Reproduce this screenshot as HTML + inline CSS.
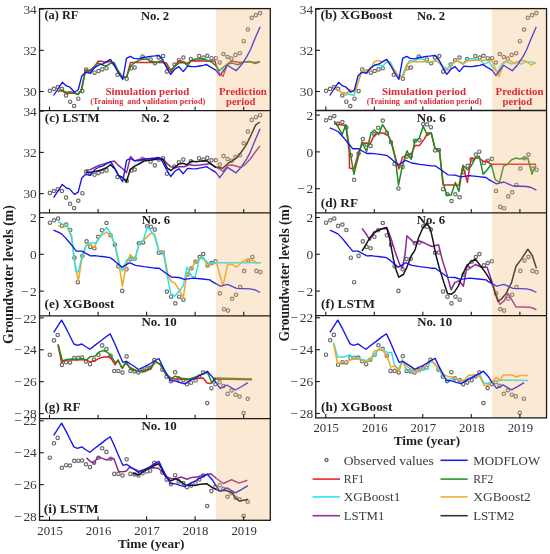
<!DOCTYPE html>
<html><head><meta charset="utf-8"><style>html,body{margin:0;padding:0;background:#fff;width:550px;height:554px;overflow:hidden}</style></head>
<body>
<svg width="550" height="554" viewBox="0 0 550 554" style="display:block">
<rect width="550" height="554" fill="#ffffff"/>
<text x="141.5" y="429.5" font-family="'Liberation Serif','Times New Roman',serif" font-size="12" font-weight="bold" fill="#1e1e1e" text-anchor="start" textLength="35.2" lengthAdjust="spacingAndGlyphs">No. 10</text>
<text x="43.8" y="513.2" font-family="'Liberation Serif','Times New Roman',serif" font-size="12" font-weight="bold" fill="#1e1e1e" text-anchor="start" textLength="54.9" lengthAdjust="spacingAndGlyphs">(i) LSTM</text>
<text x="417.2" y="326.4" font-family="'Liberation Serif','Times New Roman',serif" font-size="12" font-weight="bold" fill="#1e1e1e" text-anchor="start" textLength="34.9" lengthAdjust="spacingAndGlyphs">No. 10</text>
<text x="321.1" y="411" font-family="'Liberation Serif','Times New Roman',serif" font-size="12" font-weight="bold" fill="#1e1e1e" text-anchor="start" textLength="71.3" lengthAdjust="spacingAndGlyphs">(h) XGBoost</text>
<text x="141.5" y="326.4" font-family="'Liberation Serif','Times New Roman',serif" font-size="12" font-weight="bold" fill="#1e1e1e" text-anchor="start" textLength="35.2" lengthAdjust="spacingAndGlyphs">No. 10</text>
<text x="44.5" y="411" font-family="'Liberation Serif','Times New Roman',serif" font-size="12" font-weight="bold" fill="#1e1e1e" text-anchor="start" textLength="36" lengthAdjust="spacingAndGlyphs">(g) RF</text>
<text x="416.7" y="224" font-family="'Liberation Serif','Times New Roman',serif" font-size="12" font-weight="bold" fill="#1e1e1e" text-anchor="start" textLength="28.4" lengthAdjust="spacingAndGlyphs">No. 6</text>
<text x="321.1" y="307.6" font-family="'Liberation Serif','Times New Roman',serif" font-size="12" font-weight="bold" fill="#1e1e1e" text-anchor="start" textLength="54" lengthAdjust="spacingAndGlyphs">(f) LSTM</text>
<text x="141.8" y="223.8" font-family="'Liberation Serif','Times New Roman',serif" font-size="12" font-weight="bold" fill="#1e1e1e" text-anchor="start" textLength="28.4" lengthAdjust="spacingAndGlyphs">No. 6</text>
<text x="44.5" y="308" font-family="'Liberation Serif','Times New Roman',serif" font-size="12" font-weight="bold" fill="#1e1e1e" text-anchor="start" textLength="70" lengthAdjust="spacingAndGlyphs">(e) XGBoost</text>
<text x="416.8" y="122" font-family="'Liberation Serif','Times New Roman',serif" font-size="12" font-weight="bold" fill="#1e1e1e" text-anchor="start" textLength="29.1" lengthAdjust="spacingAndGlyphs">No. 6</text>
<text x="320.8" y="206.6" font-family="'Liberation Serif','Times New Roman',serif" font-size="12" font-weight="bold" fill="#1e1e1e" text-anchor="start" textLength="37.2" lengthAdjust="spacingAndGlyphs">(d) RF</text>
<text x="141.2" y="121.8" font-family="'Liberation Serif','Times New Roman',serif" font-size="12" font-weight="bold" fill="#1e1e1e" text-anchor="start" textLength="28" lengthAdjust="spacingAndGlyphs">No. 2</text>
<text x="44.8" y="121.8" font-family="'Liberation Serif','Times New Roman',serif" font-size="12" font-weight="bold" fill="#1e1e1e" text-anchor="start" textLength="54.7" lengthAdjust="spacingAndGlyphs">(c) LSTM</text>
<text x="416.9" y="19.6" font-family="'Liberation Serif','Times New Roman',serif" font-size="12" font-weight="bold" fill="#1e1e1e" text-anchor="start" textLength="28.2" lengthAdjust="spacingAndGlyphs">No. 2</text>
<text x="320.5" y="19.4" font-family="'Liberation Serif','Times New Roman',serif" font-size="12" font-weight="bold" fill="#1e1e1e" text-anchor="start" textLength="72" lengthAdjust="spacingAndGlyphs">(b) XGBoost</text>
<text x="140.9" y="19.6" font-family="'Liberation Serif','Times New Roman',serif" font-size="12" font-weight="bold" fill="#1e1e1e" text-anchor="start" textLength="28.2" lengthAdjust="spacingAndGlyphs">No. 2</text>
<text x="44.5" y="19.4" font-family="'Liberation Serif','Times New Roman',serif" font-size="12" font-weight="bold" fill="#1e1e1e" text-anchor="start" textLength="33.8" lengthAdjust="spacingAndGlyphs">(a) RF</text>
<g>
<circle cx="49.9" cy="90.8" r="1.7" fill="none" stroke="#6c6c6c" stroke-width="1.2"/>
<circle cx="53.9" cy="88.9" r="1.7" fill="none" stroke="#6c6c6c" stroke-width="1.2"/>
<circle cx="57.8" cy="87.1" r="1.7" fill="none" stroke="#6c6c6c" stroke-width="1.2"/>
<circle cx="61.9" cy="88.9" r="1.7" fill="none" stroke="#6c6c6c" stroke-width="1.2"/>
<circle cx="66.1" cy="95.5" r="1.7" fill="none" stroke="#6c6c6c" stroke-width="1.2"/>
<circle cx="70.1" cy="101.7" r="1.7" fill="none" stroke="#6c6c6c" stroke-width="1.2"/>
<circle cx="74.1" cy="106" r="1.7" fill="none" stroke="#6c6c6c" stroke-width="1.2"/>
<circle cx="78.3" cy="98.7" r="1.7" fill="none" stroke="#6c6c6c" stroke-width="1.2"/>
<circle cx="82.4" cy="91.1" r="1.7" fill="none" stroke="#6c6c6c" stroke-width="1.2"/>
<circle cx="86.1" cy="69.6" r="1.7" fill="none" stroke="#6c6c6c" stroke-width="1.2"/>
<circle cx="90.2" cy="71.6" r="1.7" fill="none" stroke="#6c6c6c" stroke-width="1.2"/>
<circle cx="94.6" cy="72.7" r="1.7" fill="none" stroke="#6c6c6c" stroke-width="1.2"/>
<circle cx="98.5" cy="71" r="1.7" fill="none" stroke="#6c6c6c" stroke-width="1.2"/>
<circle cx="102.3" cy="69.4" r="1.7" fill="none" stroke="#6c6c6c" stroke-width="1.2"/>
<circle cx="106.5" cy="68.3" r="1.7" fill="none" stroke="#6c6c6c" stroke-width="1.2"/>
<circle cx="117.6" cy="74.8" r="1.7" fill="none" stroke="#6c6c6c" stroke-width="1.2"/>
<circle cx="126.7" cy="78.8" r="1.7" fill="none" stroke="#6c6c6c" stroke-width="1.2"/>
<circle cx="131.4" cy="68.3" r="1.7" fill="none" stroke="#6c6c6c" stroke-width="1.2"/>
<circle cx="134.7" cy="67.5" r="1.7" fill="none" stroke="#6c6c6c" stroke-width="1.2"/>
<circle cx="142.6" cy="56.6" r="1.7" fill="none" stroke="#6c6c6c" stroke-width="1.2"/>
<circle cx="150.6" cy="59.6" r="1.7" fill="none" stroke="#6c6c6c" stroke-width="1.2"/>
<circle cx="154.9" cy="63.3" r="1.7" fill="none" stroke="#6c6c6c" stroke-width="1.2"/>
<circle cx="158.7" cy="57.5" r="1.7" fill="none" stroke="#6c6c6c" stroke-width="1.2"/>
<circle cx="163.1" cy="56.1" r="1.7" fill="none" stroke="#6c6c6c" stroke-width="1.2"/>
<circle cx="166.9" cy="71.6" r="1.7" fill="none" stroke="#6c6c6c" stroke-width="1.2"/>
<circle cx="174.5" cy="64.5" r="1.7" fill="none" stroke="#6c6c6c" stroke-width="1.2"/>
<circle cx="178.9" cy="60.2" r="1.7" fill="none" stroke="#6c6c6c" stroke-width="1.2"/>
<circle cx="183.3" cy="57.5" r="1.7" fill="none" stroke="#6c6c6c" stroke-width="1.2"/>
<circle cx="190.9" cy="59.1" r="1.7" fill="none" stroke="#6c6c6c" stroke-width="1.2"/>
<circle cx="199.1" cy="56.1" r="1.7" fill="none" stroke="#6c6c6c" stroke-width="1.2"/>
<circle cx="203.5" cy="57.5" r="1.7" fill="none" stroke="#6c6c6c" stroke-width="1.2"/>
<circle cx="207.3" cy="55.8" r="1.7" fill="none" stroke="#6c6c6c" stroke-width="1.2"/>
<circle cx="211.5" cy="58.2" r="1.7" fill="none" stroke="#6c6c6c" stroke-width="1.2"/>
<circle cx="215.9" cy="58.2" r="1.7" fill="none" stroke="#6c6c6c" stroke-width="1.2"/>
<circle cx="219.7" cy="62.5" r="1.7" fill="none" stroke="#6c6c6c" stroke-width="1.2"/>
<circle cx="223.5" cy="54" r="1.7" fill="none" stroke="#6c6c6c" stroke-width="1.2"/>
<circle cx="227.6" cy="57" r="1.7" fill="none" stroke="#6c6c6c" stroke-width="1.2"/>
<circle cx="231.5" cy="58.6" r="1.7" fill="none" stroke="#6c6c6c" stroke-width="1.2"/>
<circle cx="235.5" cy="54.9" r="1.7" fill="none" stroke="#6c6c6c" stroke-width="1.2"/>
<circle cx="239.9" cy="53.2" r="1.7" fill="none" stroke="#6c6c6c" stroke-width="1.2"/>
<circle cx="243.7" cy="41.2" r="1.7" fill="none" stroke="#6c6c6c" stroke-width="1.2"/>
<circle cx="247.9" cy="29.5" r="1.7" fill="none" stroke="#6c6c6c" stroke-width="1.2"/>
<circle cx="251.7" cy="17.8" r="1.7" fill="none" stroke="#6c6c6c" stroke-width="1.2"/>
<circle cx="255.9" cy="15.1" r="1.7" fill="none" stroke="#6c6c6c" stroke-width="1.2"/>
<circle cx="260.1" cy="13.1" r="1.7" fill="none" stroke="#6c6c6c" stroke-width="1.2"/>
<polyline points="57.7,91.8 60,90.5 62.7,91.4 66.4,93.6 70,93.2 74.5,93.2 77.3,94.1 80.9,91.4 85.5,70 90,70.9 94.5,66.4 98.3,61.3 101.5,61.3 105.9,62.4 110.3,61.3 114.1,65.1 117.9,71.6 122.8,78.2 126.6,77.1 130.5,62.4 135.4,62.4 140.8,62.4 150,62.4 160.9,62.4 166.4,62.9 169.1,67.8 171.3,72.2 174.5,66.2 178.9,60.7 183.8,61.8 187.1,63.5 191.5,60.7 205,60.9 214.8,60.9 219.2,73.5 223,76.2 227.4,64.2 231.7,60.9 237.2,62 242.6,62.5 248.6,61.5 254.1,62.5 260.1,61.8" fill="none" stroke="#e61e28" stroke-width="1.5" stroke-linejoin="round"/>
<polyline points="59.1,90.9 61.8,90 65.9,92.3 70,91.8 74.1,92.7 78.2,94.5 81.8,89.1 85,72.7 88.2,70.9 94.5,67.3 97.7,62.9 101.5,64.5 105.9,66.2 110.3,63.5 114.1,62.4 117.9,70.5 122.3,76.5 126.6,77.1 130.5,66.2 134.8,62.4 140.8,59.6 147.4,59.1 150,61.3 156.5,62.4 160.9,60.7 164.5,63 168.5,68.9 171.8,69.2 175.6,65.6 180,62.4 184.4,62.9 187.6,65.6 191.5,60.2 195.8,59.1 202.4,58.8 206.7,60.2 211.5,62 215.9,65.8 219.2,70.7 223,67.5 227.4,64.2 232.3,63.1 237.7,64.7 244.3,62 249.7,61.5 255.2,63.6 259.5,62" fill="none" stroke="#1e8c1e" stroke-width="1.5" stroke-linejoin="round"/>
<polyline points="53.6,95.5 57.9,89 62.3,82.3 66.4,85.9 69.5,86.8 74.5,92.3 78.2,90 81.8,75.9 85.5,72.3 90,73.2 94.5,67.7 99,64.9 103,63.8 106.6,61.6 110.5,59.4 114.6,65.8 118.5,73 122.7,79.5 126.5,58.3 130.3,56.4 134,58.3 138.4,58.8 142.8,57.5 146.8,57 150.5,56.4 154.8,55.9 158.7,55.3 162.5,59.5 166.4,67.3 170.7,74.4 175.1,68.9 178.9,66.7 183.3,71.6 187.6,66.2 191.5,66.5 195.8,66.7 199.5,66 203.5,65.3 206.7,64.5 209.4,66.4 213,68.5 215.9,70.2 219.7,75.6 223.5,70.5 227.4,65.3 231.7,68 236.1,70.7 241,65.3 246.5,57.1 250.3,50 255,38.5 260.1,26.7" fill="none" stroke="#1414ee" stroke-width="1.35" stroke-linejoin="round"/>
<rect x="215.9" y="8.6" width="54.4" height="102.1" fill="#f5b670" fill-opacity="0.3"/>
</g>
<g>
<circle cx="326.1" cy="90.8" r="1.7" fill="none" stroke="#6c6c6c" stroke-width="1.2"/>
<circle cx="330.1" cy="88.9" r="1.7" fill="none" stroke="#6c6c6c" stroke-width="1.2"/>
<circle cx="334" cy="87.1" r="1.7" fill="none" stroke="#6c6c6c" stroke-width="1.2"/>
<circle cx="338.1" cy="88.9" r="1.7" fill="none" stroke="#6c6c6c" stroke-width="1.2"/>
<circle cx="342.3" cy="95.5" r="1.7" fill="none" stroke="#6c6c6c" stroke-width="1.2"/>
<circle cx="346.3" cy="101.7" r="1.7" fill="none" stroke="#6c6c6c" stroke-width="1.2"/>
<circle cx="350.3" cy="106" r="1.7" fill="none" stroke="#6c6c6c" stroke-width="1.2"/>
<circle cx="354.5" cy="98.7" r="1.7" fill="none" stroke="#6c6c6c" stroke-width="1.2"/>
<circle cx="358.6" cy="91.1" r="1.7" fill="none" stroke="#6c6c6c" stroke-width="1.2"/>
<circle cx="362.3" cy="69.6" r="1.7" fill="none" stroke="#6c6c6c" stroke-width="1.2"/>
<circle cx="366.4" cy="71.6" r="1.7" fill="none" stroke="#6c6c6c" stroke-width="1.2"/>
<circle cx="370.8" cy="72.7" r="1.7" fill="none" stroke="#6c6c6c" stroke-width="1.2"/>
<circle cx="374.7" cy="71" r="1.7" fill="none" stroke="#6c6c6c" stroke-width="1.2"/>
<circle cx="378.5" cy="69.4" r="1.7" fill="none" stroke="#6c6c6c" stroke-width="1.2"/>
<circle cx="382.7" cy="68.3" r="1.7" fill="none" stroke="#6c6c6c" stroke-width="1.2"/>
<circle cx="393.8" cy="74.8" r="1.7" fill="none" stroke="#6c6c6c" stroke-width="1.2"/>
<circle cx="402.9" cy="78.8" r="1.7" fill="none" stroke="#6c6c6c" stroke-width="1.2"/>
<circle cx="407.6" cy="68.3" r="1.7" fill="none" stroke="#6c6c6c" stroke-width="1.2"/>
<circle cx="410.9" cy="67.5" r="1.7" fill="none" stroke="#6c6c6c" stroke-width="1.2"/>
<circle cx="418.8" cy="56.6" r="1.7" fill="none" stroke="#6c6c6c" stroke-width="1.2"/>
<circle cx="426.8" cy="59.6" r="1.7" fill="none" stroke="#6c6c6c" stroke-width="1.2"/>
<circle cx="431.1" cy="63.3" r="1.7" fill="none" stroke="#6c6c6c" stroke-width="1.2"/>
<circle cx="434.9" cy="57.5" r="1.7" fill="none" stroke="#6c6c6c" stroke-width="1.2"/>
<circle cx="439.3" cy="56.1" r="1.7" fill="none" stroke="#6c6c6c" stroke-width="1.2"/>
<circle cx="443.1" cy="71.6" r="1.7" fill="none" stroke="#6c6c6c" stroke-width="1.2"/>
<circle cx="450.7" cy="64.5" r="1.7" fill="none" stroke="#6c6c6c" stroke-width="1.2"/>
<circle cx="455.1" cy="60.2" r="1.7" fill="none" stroke="#6c6c6c" stroke-width="1.2"/>
<circle cx="459.5" cy="57.5" r="1.7" fill="none" stroke="#6c6c6c" stroke-width="1.2"/>
<circle cx="467.1" cy="59.1" r="1.7" fill="none" stroke="#6c6c6c" stroke-width="1.2"/>
<circle cx="475.3" cy="56.1" r="1.7" fill="none" stroke="#6c6c6c" stroke-width="1.2"/>
<circle cx="479.7" cy="57.5" r="1.7" fill="none" stroke="#6c6c6c" stroke-width="1.2"/>
<circle cx="483.5" cy="55.8" r="1.7" fill="none" stroke="#6c6c6c" stroke-width="1.2"/>
<circle cx="487.7" cy="58.2" r="1.7" fill="none" stroke="#6c6c6c" stroke-width="1.2"/>
<circle cx="492.1" cy="58.2" r="1.7" fill="none" stroke="#6c6c6c" stroke-width="1.2"/>
<circle cx="495.9" cy="62.5" r="1.7" fill="none" stroke="#6c6c6c" stroke-width="1.2"/>
<circle cx="499.7" cy="54" r="1.7" fill="none" stroke="#6c6c6c" stroke-width="1.2"/>
<circle cx="503.8" cy="57" r="1.7" fill="none" stroke="#6c6c6c" stroke-width="1.2"/>
<circle cx="507.7" cy="58.6" r="1.7" fill="none" stroke="#6c6c6c" stroke-width="1.2"/>
<circle cx="511.7" cy="54.9" r="1.7" fill="none" stroke="#6c6c6c" stroke-width="1.2"/>
<circle cx="516.1" cy="53.2" r="1.7" fill="none" stroke="#6c6c6c" stroke-width="1.2"/>
<circle cx="519.9" cy="41.2" r="1.7" fill="none" stroke="#6c6c6c" stroke-width="1.2"/>
<circle cx="524.1" cy="29.5" r="1.7" fill="none" stroke="#6c6c6c" stroke-width="1.2"/>
<circle cx="527.9" cy="17.8" r="1.7" fill="none" stroke="#6c6c6c" stroke-width="1.2"/>
<circle cx="532.1" cy="15.1" r="1.7" fill="none" stroke="#6c6c6c" stroke-width="1.2"/>
<circle cx="536.3" cy="13.1" r="1.7" fill="none" stroke="#6c6c6c" stroke-width="1.2"/>
<polyline points="333.1,88 337.5,90.2 341.8,92.4 345.9,92.7 349.8,94.5 354.2,95.3 358.1,82.2 361.5,71.3 365.8,70.5 370.2,69.8 374.1,65.5 378.2,64.7 382.5,66.2 386.2,62.5 390,61.8 393.6,68.4 398.7,76.4 402.4,75.6 406,66.2 409.6,60.4 414,61.1 418.4,58.9 422.7,58.9 427.1,62.5 431.5,62.5 435.1,60.4 438.7,59.6 442.4,65.5 446.7,69.1 450.4,65.5 454.7,61.1 458.4,61.1 463.1,63.5 467,59.5 471.7,58.5 476.4,59.5 480.3,59.5 484.2,64.2 488.9,61.9 492.8,67.4 497.5,72.1 502.2,63.5 506.9,61.9 511.6,64.2 516.3,61.9 521,64.2 525.7,61.9 530.4,61.9 535.8,62.7" fill="none" stroke="#2ee0ea" stroke-width="1.5" stroke-linejoin="round"/>
<polyline points="333.1,87.3 337.5,89.5 341.8,92.4 346.2,95 349.8,89.5 354.2,92.4 357.8,83.6 361.5,72 365.8,69.8 370.2,71.3 374.1,61.8 378.2,60.4 382.5,61.8 386.9,59.6 390,64 394.4,70.5 398.7,77.1 403.1,76.4 407.5,64 411.8,61.8 418.4,61.8 424.9,61.8 430.7,61.8 436.5,61.1 440.2,64 444.5,69.1 448.9,70.5 452.5,64 455.5,60.4 460,62.7 463.1,64.2 467,61.1 472.5,60.3 477.2,60.3 481.9,60.3 486.6,60.3 492.1,61.1 496,70.5 499.1,76.7 503.8,61.9 509.3,60.3 514.7,63.5 520.2,60.3 525.7,61.1 531.1,65 535.8,62.7" fill="none" stroke="#f2a51e" stroke-width="1.5" stroke-linejoin="round"/>
<polyline points="329.8,95.5 334.1,89 338.5,82.3 342.6,85.9 345.7,86.8 350.7,92.3 354.4,90 358,75.9 361.7,72.3 366.2,73.2 370.7,67.7 375.2,64.9 379.2,63.8 382.8,61.6 386.7,59.4 390.8,65.8 394.7,73 398.9,79.5 402.7,58.3 406.5,56.4 410.2,58.3 414.6,58.8 419,57.5 423,57 426.7,56.4 431,55.9 434.9,55.3 438.7,59.5 442.6,67.3 446.9,74.4 451.3,68.9 455.1,66.7 459.5,71.6 463.8,66.2 467.7,66.5 472,66.7 475.7,66 479.7,65.3 482.9,64.5 485.6,66.4 489.2,68.5 492.1,70.2 495.9,75.6 499.7,70.5 503.6,65.3 507.9,68 512.3,70.7 517.2,65.3 522.7,57.1 526.5,50 531.2,38.5 536.3,26.7" fill="none" stroke="#1414ee" stroke-width="1.35" stroke-linejoin="round"/>
<rect x="492.1" y="8.6" width="54.4" height="101.9" fill="#f5b670" fill-opacity="0.3"/>
</g>
<g>
<circle cx="49.9" cy="192.9" r="1.7" fill="none" stroke="#6c6c6c" stroke-width="1.2"/>
<circle cx="53.9" cy="191" r="1.7" fill="none" stroke="#6c6c6c" stroke-width="1.2"/>
<circle cx="57.8" cy="189.2" r="1.7" fill="none" stroke="#6c6c6c" stroke-width="1.2"/>
<circle cx="61.9" cy="191" r="1.7" fill="none" stroke="#6c6c6c" stroke-width="1.2"/>
<circle cx="66.1" cy="197.6" r="1.7" fill="none" stroke="#6c6c6c" stroke-width="1.2"/>
<circle cx="70.1" cy="203.8" r="1.7" fill="none" stroke="#6c6c6c" stroke-width="1.2"/>
<circle cx="74.1" cy="208.1" r="1.7" fill="none" stroke="#6c6c6c" stroke-width="1.2"/>
<circle cx="78.3" cy="200.8" r="1.7" fill="none" stroke="#6c6c6c" stroke-width="1.2"/>
<circle cx="82.4" cy="193.2" r="1.7" fill="none" stroke="#6c6c6c" stroke-width="1.2"/>
<circle cx="86.1" cy="171.7" r="1.7" fill="none" stroke="#6c6c6c" stroke-width="1.2"/>
<circle cx="90.2" cy="173.7" r="1.7" fill="none" stroke="#6c6c6c" stroke-width="1.2"/>
<circle cx="94.6" cy="174.8" r="1.7" fill="none" stroke="#6c6c6c" stroke-width="1.2"/>
<circle cx="98.5" cy="173.1" r="1.7" fill="none" stroke="#6c6c6c" stroke-width="1.2"/>
<circle cx="102.3" cy="171.5" r="1.7" fill="none" stroke="#6c6c6c" stroke-width="1.2"/>
<circle cx="106.5" cy="170.4" r="1.7" fill="none" stroke="#6c6c6c" stroke-width="1.2"/>
<circle cx="117.6" cy="176.9" r="1.7" fill="none" stroke="#6c6c6c" stroke-width="1.2"/>
<circle cx="126.7" cy="180.9" r="1.7" fill="none" stroke="#6c6c6c" stroke-width="1.2"/>
<circle cx="131.4" cy="170.4" r="1.7" fill="none" stroke="#6c6c6c" stroke-width="1.2"/>
<circle cx="134.7" cy="169.6" r="1.7" fill="none" stroke="#6c6c6c" stroke-width="1.2"/>
<circle cx="142.6" cy="158.7" r="1.7" fill="none" stroke="#6c6c6c" stroke-width="1.2"/>
<circle cx="150.6" cy="161.7" r="1.7" fill="none" stroke="#6c6c6c" stroke-width="1.2"/>
<circle cx="154.9" cy="165.4" r="1.7" fill="none" stroke="#6c6c6c" stroke-width="1.2"/>
<circle cx="158.7" cy="159.6" r="1.7" fill="none" stroke="#6c6c6c" stroke-width="1.2"/>
<circle cx="163.1" cy="158.2" r="1.7" fill="none" stroke="#6c6c6c" stroke-width="1.2"/>
<circle cx="166.9" cy="173.7" r="1.7" fill="none" stroke="#6c6c6c" stroke-width="1.2"/>
<circle cx="174.5" cy="166.6" r="1.7" fill="none" stroke="#6c6c6c" stroke-width="1.2"/>
<circle cx="178.9" cy="162.3" r="1.7" fill="none" stroke="#6c6c6c" stroke-width="1.2"/>
<circle cx="183.3" cy="159.6" r="1.7" fill="none" stroke="#6c6c6c" stroke-width="1.2"/>
<circle cx="190.9" cy="161.2" r="1.7" fill="none" stroke="#6c6c6c" stroke-width="1.2"/>
<circle cx="199.1" cy="158.2" r="1.7" fill="none" stroke="#6c6c6c" stroke-width="1.2"/>
<circle cx="203.5" cy="159.6" r="1.7" fill="none" stroke="#6c6c6c" stroke-width="1.2"/>
<circle cx="207.3" cy="157.9" r="1.7" fill="none" stroke="#6c6c6c" stroke-width="1.2"/>
<circle cx="211.5" cy="160.3" r="1.7" fill="none" stroke="#6c6c6c" stroke-width="1.2"/>
<circle cx="215.9" cy="160.3" r="1.7" fill="none" stroke="#6c6c6c" stroke-width="1.2"/>
<circle cx="219.7" cy="164.6" r="1.7" fill="none" stroke="#6c6c6c" stroke-width="1.2"/>
<circle cx="223.5" cy="156.1" r="1.7" fill="none" stroke="#6c6c6c" stroke-width="1.2"/>
<circle cx="227.6" cy="159.1" r="1.7" fill="none" stroke="#6c6c6c" stroke-width="1.2"/>
<circle cx="231.5" cy="160.7" r="1.7" fill="none" stroke="#6c6c6c" stroke-width="1.2"/>
<circle cx="235.5" cy="157" r="1.7" fill="none" stroke="#6c6c6c" stroke-width="1.2"/>
<circle cx="239.9" cy="155.3" r="1.7" fill="none" stroke="#6c6c6c" stroke-width="1.2"/>
<circle cx="243.7" cy="143.3" r="1.7" fill="none" stroke="#6c6c6c" stroke-width="1.2"/>
<circle cx="247.9" cy="131.6" r="1.7" fill="none" stroke="#6c6c6c" stroke-width="1.2"/>
<circle cx="251.7" cy="119.9" r="1.7" fill="none" stroke="#6c6c6c" stroke-width="1.2"/>
<circle cx="255.9" cy="117.2" r="1.7" fill="none" stroke="#6c6c6c" stroke-width="1.2"/>
<circle cx="260.1" cy="115.2" r="1.7" fill="none" stroke="#6c6c6c" stroke-width="1.2"/>
<polyline points="85.8,170 90.2,169.7 94.5,167.5 98.9,165.4 104,163.9 109.1,162.5 114.2,161 118.5,165.4 122.9,169 126.5,172.6 130.6,156.6 134.5,161 138.9,159.5 144,158.8 149.8,158.8 155,158.8 159.4,158.1 163,158.8 167.4,163.9 171,166.8 175.4,167.5 179.7,166.8 184.1,166.8 189.2,164.6 194.3,165.4 200.1,165.1 205.9,164.2 210.3,163.6 214.6,166.5 219.4,168.8 223.2,171.3 227.6,165.6 232.1,165 236.5,166.3 240.9,167.5 245.3,164.4 250.4,158.7 255.5,151.7 259.9,146" fill="none" stroke="#8c2896" stroke-width="1.5" stroke-linejoin="round"/>
<polyline points="85.8,171.9 90.2,172.6 96,171.2 101.8,169.7 106.9,167.5 110.5,164.6 114.9,169 118.5,175.5 122.9,177.7 126.5,181.4 130.2,169.7 134.5,166.1 138.9,164 144,161 149.8,160.3 155,159.5 159.4,158.8 163,159.5 167.4,168.3 171,170.5 175.4,166.8 179,164 182.6,163.2 187,164.6 191.4,161 195.7,161.7 201.5,161 206.6,160.7 211,163.9 215,166.9 218.8,167.5 222.6,168.2 227.6,163.7 232.7,160.6 237.1,157.4 241.5,151.7 246,145.4 250.4,136.5 255.5,125.2 259.9,122" fill="none" stroke="#141414" stroke-width="1.5" stroke-linejoin="round"/>
<polyline points="53.6,197.6 57.9,191.1 62.3,184.4 66.4,188 69.5,188.9 74.5,194.4 78.2,192.1 81.8,178 85.5,174.4 90,175.3 94.5,169.8 99,167 103,165.9 106.6,163.7 110.5,161.5 114.6,167.9 118.5,175.1 122.7,181.6 126.5,160.4 130.3,158.5 134,160.4 138.4,160.9 142.8,159.6 146.8,159.1 150.5,158.5 154.8,158 158.7,157.4 162.5,161.6 166.4,169.4 170.7,176.5 175.1,171 178.9,168.8 183.3,173.7 187.6,168.3 191.5,168.6 195.8,168.8 199.5,168.1 203.5,167.4 206.7,166.6 209.4,168.5 213,170.6 215.9,172.3 219.7,177.7 223.5,172.6 227.4,167.4 231.7,170.1 236.1,172.8 241,167.4 246.5,159.2 250.3,152.1 255,140.6 260.1,128.8" fill="none" stroke="#1414ee" stroke-width="1.35" stroke-linejoin="round"/>
<rect x="215.9" y="110.7" width="54.4" height="102.2" fill="#f5b670" fill-opacity="0.3"/>
</g>
<g>
<circle cx="326.1" cy="120.3" r="1.7" fill="none" stroke="#6c6c6c" stroke-width="1.2"/>
<circle cx="330.3" cy="117.9" r="1.7" fill="none" stroke="#6c6c6c" stroke-width="1.2"/>
<circle cx="334.3" cy="116.1" r="1.7" fill="none" stroke="#6c6c6c" stroke-width="1.2"/>
<circle cx="338.1" cy="123.5" r="1.7" fill="none" stroke="#6c6c6c" stroke-width="1.2"/>
<circle cx="342.4" cy="122.1" r="1.7" fill="none" stroke="#6c6c6c" stroke-width="1.2"/>
<circle cx="346.4" cy="127.6" r="1.7" fill="none" stroke="#6c6c6c" stroke-width="1.2"/>
<circle cx="350.8" cy="155.3" r="1.7" fill="none" stroke="#6c6c6c" stroke-width="1.2"/>
<circle cx="354.1" cy="179.8" r="1.7" fill="none" stroke="#6c6c6c" stroke-width="1.2"/>
<circle cx="358.6" cy="153.5" r="1.7" fill="none" stroke="#6c6c6c" stroke-width="1.2"/>
<circle cx="362.8" cy="139" r="1.7" fill="none" stroke="#6c6c6c" stroke-width="1.2"/>
<circle cx="366.6" cy="144.5" r="1.7" fill="none" stroke="#6c6c6c" stroke-width="1.2"/>
<circle cx="370.6" cy="145.9" r="1.7" fill="none" stroke="#6c6c6c" stroke-width="1.2"/>
<circle cx="374.4" cy="134.4" r="1.7" fill="none" stroke="#6c6c6c" stroke-width="1.2"/>
<circle cx="378.2" cy="127.8" r="1.7" fill="none" stroke="#6c6c6c" stroke-width="1.2"/>
<circle cx="382.8" cy="120.6" r="1.7" fill="none" stroke="#6c6c6c" stroke-width="1.2"/>
<circle cx="386.8" cy="132.9" r="1.7" fill="none" stroke="#6c6c6c" stroke-width="1.2"/>
<circle cx="390.9" cy="142.3" r="1.7" fill="none" stroke="#6c6c6c" stroke-width="1.2"/>
<circle cx="394.6" cy="163.9" r="1.7" fill="none" stroke="#6c6c6c" stroke-width="1.2"/>
<circle cx="398.4" cy="188.5" r="1.7" fill="none" stroke="#6c6c6c" stroke-width="1.2"/>
<circle cx="402.6" cy="166.9" r="1.7" fill="none" stroke="#6c6c6c" stroke-width="1.2"/>
<circle cx="406.6" cy="156.7" r="1.7" fill="none" stroke="#6c6c6c" stroke-width="1.2"/>
<circle cx="410.8" cy="156.3" r="1.7" fill="none" stroke="#6c6c6c" stroke-width="1.2"/>
<circle cx="414.9" cy="140.9" r="1.7" fill="none" stroke="#6c6c6c" stroke-width="1.2"/>
<circle cx="419.4" cy="140.1" r="1.7" fill="none" stroke="#6c6c6c" stroke-width="1.2"/>
<circle cx="423.2" cy="124" r="1.7" fill="none" stroke="#6c6c6c" stroke-width="1.2"/>
<circle cx="427.1" cy="124.4" r="1.7" fill="none" stroke="#6c6c6c" stroke-width="1.2"/>
<circle cx="430.9" cy="127.2" r="1.7" fill="none" stroke="#6c6c6c" stroke-width="1.2"/>
<circle cx="435.1" cy="150.4" r="1.7" fill="none" stroke="#6c6c6c" stroke-width="1.2"/>
<circle cx="438.9" cy="150.1" r="1.7" fill="none" stroke="#6c6c6c" stroke-width="1.2"/>
<circle cx="443.1" cy="189.2" r="1.7" fill="none" stroke="#6c6c6c" stroke-width="1.2"/>
<circle cx="447.4" cy="194.3" r="1.7" fill="none" stroke="#6c6c6c" stroke-width="1.2"/>
<circle cx="451.5" cy="201" r="1.7" fill="none" stroke="#6c6c6c" stroke-width="1.2"/>
<circle cx="455.4" cy="194.3" r="1.7" fill="none" stroke="#6c6c6c" stroke-width="1.2"/>
<circle cx="459.6" cy="197.3" r="1.7" fill="none" stroke="#6c6c6c" stroke-width="1.2"/>
<circle cx="463.6" cy="172.1" r="1.7" fill="none" stroke="#6c6c6c" stroke-width="1.2"/>
<circle cx="467.7" cy="165.8" r="1.7" fill="none" stroke="#6c6c6c" stroke-width="1.2"/>
<circle cx="471.7" cy="159.4" r="1.7" fill="none" stroke="#6c6c6c" stroke-width="1.2"/>
<circle cx="475.8" cy="154.6" r="1.7" fill="none" stroke="#6c6c6c" stroke-width="1.2"/>
<circle cx="479.4" cy="151.7" r="1.7" fill="none" stroke="#6c6c6c" stroke-width="1.2"/>
<circle cx="483.8" cy="163" r="1.7" fill="none" stroke="#6c6c6c" stroke-width="1.2"/>
<circle cx="487.7" cy="160.7" r="1.7" fill="none" stroke="#6c6c6c" stroke-width="1.2"/>
<circle cx="491.9" cy="158.9" r="1.7" fill="none" stroke="#6c6c6c" stroke-width="1.2"/>
<circle cx="496" cy="191" r="1.7" fill="none" stroke="#6c6c6c" stroke-width="1.2"/>
<circle cx="500.2" cy="206.9" r="1.7" fill="none" stroke="#6c6c6c" stroke-width="1.2"/>
<circle cx="504.1" cy="208.2" r="1.7" fill="none" stroke="#6c6c6c" stroke-width="1.2"/>
<circle cx="508.3" cy="196.4" r="1.7" fill="none" stroke="#6c6c6c" stroke-width="1.2"/>
<circle cx="512.2" cy="192.3" r="1.7" fill="none" stroke="#6c6c6c" stroke-width="1.2"/>
<circle cx="516.4" cy="184.7" r="1.7" fill="none" stroke="#6c6c6c" stroke-width="1.2"/>
<circle cx="520.4" cy="168.5" r="1.7" fill="none" stroke="#6c6c6c" stroke-width="1.2"/>
<circle cx="524.5" cy="158.2" r="1.7" fill="none" stroke="#6c6c6c" stroke-width="1.2"/>
<circle cx="528.5" cy="154.6" r="1.7" fill="none" stroke="#6c6c6c" stroke-width="1.2"/>
<circle cx="532.6" cy="168.5" r="1.7" fill="none" stroke="#6c6c6c" stroke-width="1.2"/>
<circle cx="536.6" cy="169.7" r="1.7" fill="none" stroke="#6c6c6c" stroke-width="1.2"/>
<polyline points="334.1,123.7 339.5,124.6 345.8,125.5 349.4,153.5 349.4,168 353.9,168.9 358.4,152.6 362.9,142.7 366.5,143.6 370.2,143.6 374.5,134.6 379,132.8 383.5,133.3 388.1,135.5 391.7,142.7 395.3,157.1 398.9,168.9 402.5,157.1 407,155.3 411.5,153.5 415.1,145.4 419.6,145.4 424.2,139.1 427.8,132.8 431.3,133.3 434.9,148.1 439.4,150.8 443.1,185.1 447.6,185.1 454.8,185.1 458.9,185.5 462.9,166.2 467.4,182.4 471,158.9 475.5,158 479.2,158 483.6,161.6 487.2,161.1 490.8,164.3 536,164.3" fill="none" stroke="#e61e28" stroke-width="1.5" stroke-linejoin="round"/>
<polyline points="334.1,121 338.2,127 342.2,134.6 345.8,124.6 349.8,150 353.9,174.3 358,158 362,141.8 366.5,151.7 371.1,132.8 374.5,130 378.7,134.6 382.6,124.6 387.1,131.9 391.3,142.7 395.3,158 398.5,185.1 402.5,165.2 407,150.8 411.2,159.3 414.8,140.9 419.1,138.7 423.2,126.1 427.4,135.5 431.3,132.8 434.9,148.1 439.4,150.5 443.1,182.4 446.7,195 451.2,195 455.3,182.4 458.9,191.4 462.9,165.2 467.4,169.8 471,166.2 475.5,158 479.2,156.2 483.2,174.3 487.2,169.8 491.2,164.3 495.3,179.7 499.5,182.4 503.5,166.2 507.4,164.3 511.6,159.8 516.1,158 519.7,158.9 524.2,158 527.8,158 532,174.3 536,165.2" fill="none" stroke="#1e8c1e" stroke-width="1.5" stroke-linejoin="round"/>
<polyline points="329.8,127.8 333.8,129.5 337.9,131.5 341.8,135.5 345.4,139.9 349.2,144.5 352.6,148.7 358.1,148.7 362.2,151 366.8,153.5 371.1,153.3 376.1,153.9 378.4,154.1 386.6,155.3 390.2,158 393.9,161.2 398.2,164.8 402.2,162.5 405.6,160.3 411.8,163 419.9,164.3 431.2,165.8 435.2,165.8 441.6,170.3 447.9,174.8 455.1,175.1 460.6,176.9 469.6,175.7 478.6,176.6 486.1,177.5 488.4,179.3 496.6,183.8 503.9,182 512.9,186 526.4,186.5 531.2,187.5 536.4,190.1" fill="none" stroke="#1414ee" stroke-width="1.35" stroke-linejoin="round"/>
<rect x="492.1" y="110.5" width="54.4" height="102.4" fill="#f5b670" fill-opacity="0.3"/>
</g>
<g>
<circle cx="49.9" cy="222.7" r="1.7" fill="none" stroke="#6c6c6c" stroke-width="1.2"/>
<circle cx="54.1" cy="220.3" r="1.7" fill="none" stroke="#6c6c6c" stroke-width="1.2"/>
<circle cx="58.1" cy="218.5" r="1.7" fill="none" stroke="#6c6c6c" stroke-width="1.2"/>
<circle cx="61.9" cy="225.9" r="1.7" fill="none" stroke="#6c6c6c" stroke-width="1.2"/>
<circle cx="66.2" cy="224.5" r="1.7" fill="none" stroke="#6c6c6c" stroke-width="1.2"/>
<circle cx="70.2" cy="230" r="1.7" fill="none" stroke="#6c6c6c" stroke-width="1.2"/>
<circle cx="74.5" cy="257.7" r="1.7" fill="none" stroke="#6c6c6c" stroke-width="1.2"/>
<circle cx="77.9" cy="282.2" r="1.7" fill="none" stroke="#6c6c6c" stroke-width="1.2"/>
<circle cx="82.4" cy="255.9" r="1.7" fill="none" stroke="#6c6c6c" stroke-width="1.2"/>
<circle cx="86.6" cy="241.4" r="1.7" fill="none" stroke="#6c6c6c" stroke-width="1.2"/>
<circle cx="90.3" cy="246.9" r="1.7" fill="none" stroke="#6c6c6c" stroke-width="1.2"/>
<circle cx="94.4" cy="248.3" r="1.7" fill="none" stroke="#6c6c6c" stroke-width="1.2"/>
<circle cx="98.2" cy="236.8" r="1.7" fill="none" stroke="#6c6c6c" stroke-width="1.2"/>
<circle cx="102" cy="230.2" r="1.7" fill="none" stroke="#6c6c6c" stroke-width="1.2"/>
<circle cx="106.5" cy="223" r="1.7" fill="none" stroke="#6c6c6c" stroke-width="1.2"/>
<circle cx="110.5" cy="235.3" r="1.7" fill="none" stroke="#6c6c6c" stroke-width="1.2"/>
<circle cx="114.8" cy="244.7" r="1.7" fill="none" stroke="#6c6c6c" stroke-width="1.2"/>
<circle cx="118.3" cy="266.3" r="1.7" fill="none" stroke="#6c6c6c" stroke-width="1.2"/>
<circle cx="122.2" cy="290.9" r="1.7" fill="none" stroke="#6c6c6c" stroke-width="1.2"/>
<circle cx="126.5" cy="269.3" r="1.7" fill="none" stroke="#6c6c6c" stroke-width="1.2"/>
<circle cx="130.4" cy="259.1" r="1.7" fill="none" stroke="#6c6c6c" stroke-width="1.2"/>
<circle cx="134.6" cy="258.7" r="1.7" fill="none" stroke="#6c6c6c" stroke-width="1.2"/>
<circle cx="138.8" cy="243.3" r="1.7" fill="none" stroke="#6c6c6c" stroke-width="1.2"/>
<circle cx="143.1" cy="242.5" r="1.7" fill="none" stroke="#6c6c6c" stroke-width="1.2"/>
<circle cx="147.1" cy="226.4" r="1.7" fill="none" stroke="#6c6c6c" stroke-width="1.2"/>
<circle cx="150.9" cy="226.8" r="1.7" fill="none" stroke="#6c6c6c" stroke-width="1.2"/>
<circle cx="154.8" cy="229.6" r="1.7" fill="none" stroke="#6c6c6c" stroke-width="1.2"/>
<circle cx="158.8" cy="252.8" r="1.7" fill="none" stroke="#6c6c6c" stroke-width="1.2"/>
<circle cx="162.8" cy="252.5" r="1.7" fill="none" stroke="#6c6c6c" stroke-width="1.2"/>
<circle cx="166.9" cy="291.6" r="1.7" fill="none" stroke="#6c6c6c" stroke-width="1.2"/>
<circle cx="171.1" cy="296.7" r="1.7" fill="none" stroke="#6c6c6c" stroke-width="1.2"/>
<circle cx="175.3" cy="303.4" r="1.7" fill="none" stroke="#6c6c6c" stroke-width="1.2"/>
<circle cx="179.2" cy="296.7" r="1.7" fill="none" stroke="#6c6c6c" stroke-width="1.2"/>
<circle cx="183.4" cy="299.7" r="1.7" fill="none" stroke="#6c6c6c" stroke-width="1.2"/>
<circle cx="187.4" cy="274.5" r="1.7" fill="none" stroke="#6c6c6c" stroke-width="1.2"/>
<circle cx="191.5" cy="268.2" r="1.7" fill="none" stroke="#6c6c6c" stroke-width="1.2"/>
<circle cx="195.5" cy="261.8" r="1.7" fill="none" stroke="#6c6c6c" stroke-width="1.2"/>
<circle cx="199.6" cy="257" r="1.7" fill="none" stroke="#6c6c6c" stroke-width="1.2"/>
<circle cx="203.2" cy="254.1" r="1.7" fill="none" stroke="#6c6c6c" stroke-width="1.2"/>
<circle cx="207.6" cy="265.4" r="1.7" fill="none" stroke="#6c6c6c" stroke-width="1.2"/>
<circle cx="211.5" cy="263.1" r="1.7" fill="none" stroke="#6c6c6c" stroke-width="1.2"/>
<circle cx="215.6" cy="261.3" r="1.7" fill="none" stroke="#6c6c6c" stroke-width="1.2"/>
<circle cx="219.8" cy="293.4" r="1.7" fill="none" stroke="#6c6c6c" stroke-width="1.2"/>
<circle cx="224" cy="309.3" r="1.7" fill="none" stroke="#6c6c6c" stroke-width="1.2"/>
<circle cx="227.9" cy="310.6" r="1.7" fill="none" stroke="#6c6c6c" stroke-width="1.2"/>
<circle cx="232.1" cy="298.8" r="1.7" fill="none" stroke="#6c6c6c" stroke-width="1.2"/>
<circle cx="236" cy="294.7" r="1.7" fill="none" stroke="#6c6c6c" stroke-width="1.2"/>
<circle cx="240.2" cy="287.1" r="1.7" fill="none" stroke="#6c6c6c" stroke-width="1.2"/>
<circle cx="244.2" cy="270.9" r="1.7" fill="none" stroke="#6c6c6c" stroke-width="1.2"/>
<circle cx="248.3" cy="260.6" r="1.7" fill="none" stroke="#6c6c6c" stroke-width="1.2"/>
<circle cx="252.3" cy="257" r="1.7" fill="none" stroke="#6c6c6c" stroke-width="1.2"/>
<circle cx="256.4" cy="270.9" r="1.7" fill="none" stroke="#6c6c6c" stroke-width="1.2"/>
<circle cx="260.4" cy="272.1" r="1.7" fill="none" stroke="#6c6c6c" stroke-width="1.2"/>
<polyline points="58.1,225.7 62.6,227 67.1,226.3 71.6,237.5 75.2,264.5 78.3,280.8 81.5,260.9 86,245.6 90.5,244.7 94.5,247.4 98.6,237.5 102.2,234.8 106.7,232.1 111.2,235.7 114.9,245.6 119.4,266.3 122.4,286.2 126,266.3 130.2,254.6 134.7,260 139.2,242.9 143.7,240.2 147.3,236.6 151,233 154.5,233.9 159,251 163.5,251 168.1,275.4 171.3,281.7 174.4,282.6 178,288 183.4,297 187,273.6 191.2,268.2 196,261.8 200.5,258.2 204.2,259.5 207.7,266.3 212.2,263.6 216.7,263.6 223,286.2 227.6,264.5 232.1,264.5 236.6,267.2 241.1,262.7 245.6,260 252.3,260 256.4,262.7 260.1,262.7" fill="none" stroke="#f2a51e" stroke-width="1.5" stroke-linejoin="round"/>
<polyline points="58.1,221.6 61.7,223.9 67.1,225.7 71.6,235.7 74.3,260.9 76.1,271.4 78.4,271.8 82.4,254.6 86,245.6 90.5,242.9 96,242.9 98.6,239.3 102.2,233 106.7,227.5 111.2,233.9 114.9,244.7 119.4,263.6 122.4,270.9 126.6,260 130.2,258.2 134.7,260 139.2,243.8 143.4,240.2 147.3,226.6 151,231.1 154.5,235.7 159,251.9 163.5,252.8 167.1,275.4 170.8,293.4 174.4,296.1 178.9,291.6 183.4,285.3 187,267.2 191.5,276.3 195.1,277.2 199.6,258.2 203.2,257.3 205,260 208.6,263.6 212.2,262.7 215.8,262.7 261,262.7" fill="none" stroke="#2ee0ea" stroke-width="1.5" stroke-linejoin="round"/>
<polyline points="53.5,230.2 57.5,231.9 61.6,233.9 65.5,237.9 69.2,242.3 73,246.9 76.3,251.1 81.8,251.1 86,253.4 90.5,255.9 94.9,255.7 99.9,256.3 102.2,256.5 110.3,257.7 114,260.4 117.6,263.6 122,267.2 126,264.9 129.3,262.7 135.6,265.4 143.8,266.7 155.1,268.2 159.1,268.2 165.3,272.7 171.8,277.2 178.9,277.5 184.4,279.3 193.4,278.1 202.4,279 209.9,279.9 212.2,281.7 220.4,286.2 227.6,284.4 236.6,288.4 250.1,288.9 255.1,289.9 260.1,292.5" fill="none" stroke="#1414ee" stroke-width="1.35" stroke-linejoin="round"/>
<rect x="215.9" y="212.9" width="54.4" height="102.9" fill="#f5b670" fill-opacity="0.3"/>
</g>
<g>
<circle cx="326.1" cy="222.7" r="1.7" fill="none" stroke="#6c6c6c" stroke-width="1.2"/>
<circle cx="330.3" cy="220.3" r="1.7" fill="none" stroke="#6c6c6c" stroke-width="1.2"/>
<circle cx="334.3" cy="218.5" r="1.7" fill="none" stroke="#6c6c6c" stroke-width="1.2"/>
<circle cx="338.1" cy="225.9" r="1.7" fill="none" stroke="#6c6c6c" stroke-width="1.2"/>
<circle cx="342.4" cy="224.5" r="1.7" fill="none" stroke="#6c6c6c" stroke-width="1.2"/>
<circle cx="346.4" cy="230" r="1.7" fill="none" stroke="#6c6c6c" stroke-width="1.2"/>
<circle cx="350.8" cy="257.7" r="1.7" fill="none" stroke="#6c6c6c" stroke-width="1.2"/>
<circle cx="354.1" cy="282.2" r="1.7" fill="none" stroke="#6c6c6c" stroke-width="1.2"/>
<circle cx="358.6" cy="255.9" r="1.7" fill="none" stroke="#6c6c6c" stroke-width="1.2"/>
<circle cx="362.8" cy="241.4" r="1.7" fill="none" stroke="#6c6c6c" stroke-width="1.2"/>
<circle cx="366.6" cy="246.9" r="1.7" fill="none" stroke="#6c6c6c" stroke-width="1.2"/>
<circle cx="370.6" cy="248.3" r="1.7" fill="none" stroke="#6c6c6c" stroke-width="1.2"/>
<circle cx="374.4" cy="236.8" r="1.7" fill="none" stroke="#6c6c6c" stroke-width="1.2"/>
<circle cx="378.2" cy="230.2" r="1.7" fill="none" stroke="#6c6c6c" stroke-width="1.2"/>
<circle cx="382.8" cy="223" r="1.7" fill="none" stroke="#6c6c6c" stroke-width="1.2"/>
<circle cx="386.8" cy="235.3" r="1.7" fill="none" stroke="#6c6c6c" stroke-width="1.2"/>
<circle cx="390.9" cy="244.7" r="1.7" fill="none" stroke="#6c6c6c" stroke-width="1.2"/>
<circle cx="394.6" cy="266.3" r="1.7" fill="none" stroke="#6c6c6c" stroke-width="1.2"/>
<circle cx="398.4" cy="290.9" r="1.7" fill="none" stroke="#6c6c6c" stroke-width="1.2"/>
<circle cx="402.6" cy="269.3" r="1.7" fill="none" stroke="#6c6c6c" stroke-width="1.2"/>
<circle cx="406.6" cy="259.1" r="1.7" fill="none" stroke="#6c6c6c" stroke-width="1.2"/>
<circle cx="410.8" cy="258.7" r="1.7" fill="none" stroke="#6c6c6c" stroke-width="1.2"/>
<circle cx="414.9" cy="243.3" r="1.7" fill="none" stroke="#6c6c6c" stroke-width="1.2"/>
<circle cx="419.4" cy="242.5" r="1.7" fill="none" stroke="#6c6c6c" stroke-width="1.2"/>
<circle cx="423.2" cy="226.4" r="1.7" fill="none" stroke="#6c6c6c" stroke-width="1.2"/>
<circle cx="427.1" cy="226.8" r="1.7" fill="none" stroke="#6c6c6c" stroke-width="1.2"/>
<circle cx="430.9" cy="229.6" r="1.7" fill="none" stroke="#6c6c6c" stroke-width="1.2"/>
<circle cx="435.1" cy="252.8" r="1.7" fill="none" stroke="#6c6c6c" stroke-width="1.2"/>
<circle cx="438.9" cy="252.5" r="1.7" fill="none" stroke="#6c6c6c" stroke-width="1.2"/>
<circle cx="443.1" cy="291.6" r="1.7" fill="none" stroke="#6c6c6c" stroke-width="1.2"/>
<circle cx="447.4" cy="296.7" r="1.7" fill="none" stroke="#6c6c6c" stroke-width="1.2"/>
<circle cx="451.5" cy="303.4" r="1.7" fill="none" stroke="#6c6c6c" stroke-width="1.2"/>
<circle cx="455.4" cy="296.7" r="1.7" fill="none" stroke="#6c6c6c" stroke-width="1.2"/>
<circle cx="459.6" cy="299.7" r="1.7" fill="none" stroke="#6c6c6c" stroke-width="1.2"/>
<circle cx="463.6" cy="274.5" r="1.7" fill="none" stroke="#6c6c6c" stroke-width="1.2"/>
<circle cx="467.7" cy="268.2" r="1.7" fill="none" stroke="#6c6c6c" stroke-width="1.2"/>
<circle cx="471.7" cy="261.8" r="1.7" fill="none" stroke="#6c6c6c" stroke-width="1.2"/>
<circle cx="475.8" cy="257" r="1.7" fill="none" stroke="#6c6c6c" stroke-width="1.2"/>
<circle cx="479.4" cy="254.1" r="1.7" fill="none" stroke="#6c6c6c" stroke-width="1.2"/>
<circle cx="483.8" cy="265.4" r="1.7" fill="none" stroke="#6c6c6c" stroke-width="1.2"/>
<circle cx="487.7" cy="263.1" r="1.7" fill="none" stroke="#6c6c6c" stroke-width="1.2"/>
<circle cx="491.9" cy="261.3" r="1.7" fill="none" stroke="#6c6c6c" stroke-width="1.2"/>
<circle cx="496" cy="293.4" r="1.7" fill="none" stroke="#6c6c6c" stroke-width="1.2"/>
<circle cx="500.2" cy="309.3" r="1.7" fill="none" stroke="#6c6c6c" stroke-width="1.2"/>
<circle cx="504.1" cy="310.6" r="1.7" fill="none" stroke="#6c6c6c" stroke-width="1.2"/>
<circle cx="508.3" cy="298.8" r="1.7" fill="none" stroke="#6c6c6c" stroke-width="1.2"/>
<circle cx="512.2" cy="294.7" r="1.7" fill="none" stroke="#6c6c6c" stroke-width="1.2"/>
<circle cx="516.4" cy="287.1" r="1.7" fill="none" stroke="#6c6c6c" stroke-width="1.2"/>
<circle cx="520.4" cy="270.9" r="1.7" fill="none" stroke="#6c6c6c" stroke-width="1.2"/>
<circle cx="524.5" cy="260.6" r="1.7" fill="none" stroke="#6c6c6c" stroke-width="1.2"/>
<circle cx="528.5" cy="257" r="1.7" fill="none" stroke="#6c6c6c" stroke-width="1.2"/>
<circle cx="532.6" cy="270.9" r="1.7" fill="none" stroke="#6c6c6c" stroke-width="1.2"/>
<circle cx="536.6" cy="272.1" r="1.7" fill="none" stroke="#6c6c6c" stroke-width="1.2"/>
<polyline points="362,228.4 365.5,233 369.9,240.2 373.6,232.1 378.1,230.2 382.6,228.8 387.1,228.4 390.7,237.5 395.2,251.9 399.7,264.5 402.4,268.2 405.1,253.7 406.9,235.7 410.5,239.3 414.2,242.9 419.6,241.1 422.2,242 427.6,244.7 432.1,246.5 438.5,244.7 442.1,259.1 446.6,273.6 451.1,289.8 454.7,282.6 459.2,280.8 463.4,286.2 467.3,264.5 470.1,268.2 475.4,264.5 481.7,267.2 487.1,267.2 492.6,283.5 496.2,295.2 499.8,304.3 504.3,300.6 507.9,293.4 512.4,300.6 516,307 524.2,307 531.4,307.5 536.4,309.7" fill="none" stroke="#8c2896" stroke-width="1.5" stroke-linejoin="round"/>
<polyline points="362,251 365.4,245.6 369.9,237.5 374.4,233 378.1,230.2 382.6,228.4 386.7,227.5 389.8,239.3 393.4,259.1 396.1,270 398.8,277.2 403.3,274.5 407.3,266.3 411.4,255.5 415,250.1 418.6,237.5 423.1,227.5 426.7,223 430.3,228.4 433.1,241.1 435.8,254.6 439.4,268.2 443.9,282.6 447.5,293.4 451.1,294.3 454.7,291.6 458.3,286.2 462.3,275.4 466.4,266.3 471,261.8 475.4,259.1 480.8,266.3 486.2,273.6 491.7,282.6 495.3,293.4 498,301.5 501.6,298.8 506.1,293.4 511.5,282.6 516,266.3 521.4,259.1 527.8,249.2 532.3,255.5 536.4,268.2" fill="none" stroke="#141414" stroke-width="1.5" stroke-linejoin="round"/>
<polyline points="329.8,230.2 333.8,231.9 337.9,233.9 341.8,237.9 345.4,242.3 349.2,246.9 352.6,251.1 358.1,251.1 362.2,253.4 366.8,255.9 371.1,255.7 376.1,256.3 378.4,256.5 386.6,257.7 390.2,260.4 393.9,263.6 398.2,267.2 402.2,264.9 405.6,262.7 411.8,265.4 419.9,266.7 431.2,268.2 435.2,268.2 441.6,272.7 447.9,277.2 455.1,277.5 460.6,279.3 469.6,278.1 478.6,279 486.1,279.9 488.4,281.7 496.6,286.2 503.9,284.4 512.9,288.4 526.4,288.9 531.2,289.9 536.4,292.5" fill="none" stroke="#1414ee" stroke-width="1.35" stroke-linejoin="round"/>
<rect x="492.1" y="212.9" width="54.4" height="102.8" fill="#f5b670" fill-opacity="0.3"/>
</g>
<g>
<circle cx="49.8" cy="354.8" r="1.7" fill="none" stroke="#6c6c6c" stroke-width="1.2"/>
<circle cx="54" cy="340.4" r="1.7" fill="none" stroke="#6c6c6c" stroke-width="1.2"/>
<circle cx="57.7" cy="335" r="1.7" fill="none" stroke="#6c6c6c" stroke-width="1.2"/>
<circle cx="61.9" cy="364.9" r="1.7" fill="none" stroke="#6c6c6c" stroke-width="1.2"/>
<circle cx="66.2" cy="362.3" r="1.7" fill="none" stroke="#6c6c6c" stroke-width="1.2"/>
<circle cx="70" cy="362.6" r="1.7" fill="none" stroke="#6c6c6c" stroke-width="1.2"/>
<circle cx="74.3" cy="358" r="1.7" fill="none" stroke="#6c6c6c" stroke-width="1.2"/>
<circle cx="78.3" cy="357.8" r="1.7" fill="none" stroke="#6c6c6c" stroke-width="1.2"/>
<circle cx="82.1" cy="357.6" r="1.7" fill="none" stroke="#6c6c6c" stroke-width="1.2"/>
<circle cx="86" cy="361.4" r="1.7" fill="none" stroke="#6c6c6c" stroke-width="1.2"/>
<circle cx="90" cy="364.2" r="1.7" fill="none" stroke="#6c6c6c" stroke-width="1.2"/>
<circle cx="94.1" cy="359.8" r="1.7" fill="none" stroke="#6c6c6c" stroke-width="1.2"/>
<circle cx="98.4" cy="354.8" r="1.7" fill="none" stroke="#6c6c6c" stroke-width="1.2"/>
<circle cx="102.2" cy="345.4" r="1.7" fill="none" stroke="#6c6c6c" stroke-width="1.2"/>
<circle cx="106.4" cy="349" r="1.7" fill="none" stroke="#6c6c6c" stroke-width="1.2"/>
<circle cx="110.6" cy="355.8" r="1.7" fill="none" stroke="#6c6c6c" stroke-width="1.2"/>
<circle cx="114.3" cy="371" r="1.7" fill="none" stroke="#6c6c6c" stroke-width="1.2"/>
<circle cx="118.4" cy="371" r="1.7" fill="none" stroke="#6c6c6c" stroke-width="1.2"/>
<circle cx="122.5" cy="372.6" r="1.7" fill="none" stroke="#6c6c6c" stroke-width="1.2"/>
<circle cx="126.6" cy="356.4" r="1.7" fill="none" stroke="#6c6c6c" stroke-width="1.2"/>
<circle cx="130.5" cy="371" r="1.7" fill="none" stroke="#6c6c6c" stroke-width="1.2"/>
<circle cx="134.5" cy="371.5" r="1.7" fill="none" stroke="#6c6c6c" stroke-width="1.2"/>
<circle cx="138.4" cy="372.5" r="1.7" fill="none" stroke="#6c6c6c" stroke-width="1.2"/>
<circle cx="142.6" cy="370.4" r="1.7" fill="none" stroke="#6c6c6c" stroke-width="1.2"/>
<circle cx="147" cy="368.5" r="1.7" fill="none" stroke="#6c6c6c" stroke-width="1.2"/>
<circle cx="150.2" cy="367.8" r="1.7" fill="none" stroke="#6c6c6c" stroke-width="1.2"/>
<circle cx="154.3" cy="360" r="1.7" fill="none" stroke="#6c6c6c" stroke-width="1.2"/>
<circle cx="162.3" cy="369.7" r="1.7" fill="none" stroke="#6c6c6c" stroke-width="1.2"/>
<circle cx="166.6" cy="376.7" r="1.7" fill="none" stroke="#6c6c6c" stroke-width="1.2"/>
<circle cx="170.9" cy="381.2" r="1.7" fill="none" stroke="#6c6c6c" stroke-width="1.2"/>
<circle cx="175.1" cy="372.3" r="1.7" fill="none" stroke="#6c6c6c" stroke-width="1.2"/>
<circle cx="178.7" cy="378.5" r="1.7" fill="none" stroke="#6c6c6c" stroke-width="1.2"/>
<circle cx="183.4" cy="380.2" r="1.7" fill="none" stroke="#6c6c6c" stroke-width="1.2"/>
<circle cx="187" cy="384.3" r="1.7" fill="none" stroke="#6c6c6c" stroke-width="1.2"/>
<circle cx="191.1" cy="382.7" r="1.7" fill="none" stroke="#6c6c6c" stroke-width="1.2"/>
<circle cx="195.5" cy="380.4" r="1.7" fill="none" stroke="#6c6c6c" stroke-width="1.2"/>
<circle cx="199.2" cy="376.5" r="1.7" fill="none" stroke="#6c6c6c" stroke-width="1.2"/>
<circle cx="203.1" cy="372.6" r="1.7" fill="none" stroke="#6c6c6c" stroke-width="1.2"/>
<circle cx="207.2" cy="403.1" r="1.7" fill="none" stroke="#6c6c6c" stroke-width="1.2"/>
<circle cx="211.4" cy="388.2" r="1.7" fill="none" stroke="#6c6c6c" stroke-width="1.2"/>
<circle cx="215.4" cy="384.2" r="1.7" fill="none" stroke="#6c6c6c" stroke-width="1.2"/>
<circle cx="219.6" cy="382.3" r="1.7" fill="none" stroke="#6c6c6c" stroke-width="1.2"/>
<circle cx="223.3" cy="386" r="1.7" fill="none" stroke="#6c6c6c" stroke-width="1.2"/>
<circle cx="227.6" cy="393.9" r="1.7" fill="none" stroke="#6c6c6c" stroke-width="1.2"/>
<circle cx="231.6" cy="390.4" r="1.7" fill="none" stroke="#6c6c6c" stroke-width="1.2"/>
<circle cx="235.6" cy="394.8" r="1.7" fill="none" stroke="#6c6c6c" stroke-width="1.2"/>
<circle cx="239.6" cy="396.5" r="1.7" fill="none" stroke="#6c6c6c" stroke-width="1.2"/>
<circle cx="243.6" cy="413" r="1.7" fill="none" stroke="#6c6c6c" stroke-width="1.2"/>
<circle cx="247.7" cy="398.8" r="1.7" fill="none" stroke="#6c6c6c" stroke-width="1.2"/>
<polyline points="58,345 61.6,362.6 66.7,359.4 71.8,360.1 77.6,360.1 82,359.4 86.4,360.1 90,361.9 95,360.6 100.8,357.7 104.7,357 108.7,356.7 111.6,359.1 115.2,364.9 118.1,359.8 121.7,367.8 126,363.5 129.6,367.1 134,369.5 138.3,371.4 145.5,371.4 150.3,368.8 155.5,362 160.1,363.9 165.9,373.3 170.9,379.1 178.9,379.1 187.5,379.8 193.3,379.1 200,378.3 203,378 207,383 211,383.5 215,379 252,379.8" fill="none" stroke="#e61e28" stroke-width="1.5" stroke-linejoin="round"/>
<polyline points="58,344.1 62.4,360.8 66,360.1 71.1,359 77.6,359.4 82,358.6 86.4,360.1 90,356.8 95,356.2 99.3,351.9 103.7,350.5 108,352.6 111.6,357 115.2,362.7 118.1,360.6 122.4,368.5 126,361.3 130.4,369.2 134.5,370.5 138.3,371.4 145.5,370 150.3,368 155,361 160.1,364.6 165.9,374.7 171.6,378.3 175.3,376.2 181.7,378.3 189,379.1 197.6,376.2 204.8,373.3 207.5,372.5 212,383 215,378 252,379" fill="none" stroke="#1e8c1e" stroke-width="1.5" stroke-linejoin="round"/>
<polyline points="53.7,332.4 61.6,320.2 66,328.2 70,336.3 73.9,344 77.5,345.4 81.8,344 85.8,346.8 89.8,349.3 94.8,345.4 100,341.5 105,337.5 110.2,333.9 114.5,343 118.5,352.5 122.9,362.4 126.6,361.4 130.8,364.2 134.5,366.5 138.4,369.5 142.5,367.5 146.7,365.6 150.5,363.5 154.2,361 158.9,358.5 164.2,369.5 170.3,380.6 175.8,381 180,382.5 184.7,383.8 191.5,379.7 195.5,378 199.5,375.5 203.5,373.5 207.3,371.3 212.7,377.4 215.3,381.7 220.3,388.5 226.8,385 235.4,390 241.7,386.5 247.9,382.7" fill="none" stroke="#1414ee" stroke-width="1.35" stroke-linejoin="round"/>
<rect x="215.9" y="315.8" width="54.4" height="102.9" fill="#f5b670" fill-opacity="0.3"/>
</g>
<g>
<circle cx="326" cy="354.7" r="1.7" fill="none" stroke="#6c6c6c" stroke-width="1.2"/>
<circle cx="330.2" cy="340.3" r="1.7" fill="none" stroke="#6c6c6c" stroke-width="1.2"/>
<circle cx="333.9" cy="334.9" r="1.7" fill="none" stroke="#6c6c6c" stroke-width="1.2"/>
<circle cx="338.1" cy="364.8" r="1.7" fill="none" stroke="#6c6c6c" stroke-width="1.2"/>
<circle cx="342.4" cy="362.2" r="1.7" fill="none" stroke="#6c6c6c" stroke-width="1.2"/>
<circle cx="346.2" cy="362.5" r="1.7" fill="none" stroke="#6c6c6c" stroke-width="1.2"/>
<circle cx="350.5" cy="357.9" r="1.7" fill="none" stroke="#6c6c6c" stroke-width="1.2"/>
<circle cx="354.5" cy="357.7" r="1.7" fill="none" stroke="#6c6c6c" stroke-width="1.2"/>
<circle cx="358.3" cy="357.5" r="1.7" fill="none" stroke="#6c6c6c" stroke-width="1.2"/>
<circle cx="362.2" cy="361.3" r="1.7" fill="none" stroke="#6c6c6c" stroke-width="1.2"/>
<circle cx="366.2" cy="364.1" r="1.7" fill="none" stroke="#6c6c6c" stroke-width="1.2"/>
<circle cx="370.3" cy="359.7" r="1.7" fill="none" stroke="#6c6c6c" stroke-width="1.2"/>
<circle cx="374.6" cy="354.7" r="1.7" fill="none" stroke="#6c6c6c" stroke-width="1.2"/>
<circle cx="378.4" cy="345.3" r="1.7" fill="none" stroke="#6c6c6c" stroke-width="1.2"/>
<circle cx="382.6" cy="348.9" r="1.7" fill="none" stroke="#6c6c6c" stroke-width="1.2"/>
<circle cx="386.8" cy="355.7" r="1.7" fill="none" stroke="#6c6c6c" stroke-width="1.2"/>
<circle cx="390.5" cy="370.9" r="1.7" fill="none" stroke="#6c6c6c" stroke-width="1.2"/>
<circle cx="394.6" cy="370.9" r="1.7" fill="none" stroke="#6c6c6c" stroke-width="1.2"/>
<circle cx="398.7" cy="372.5" r="1.7" fill="none" stroke="#6c6c6c" stroke-width="1.2"/>
<circle cx="402.8" cy="356.3" r="1.7" fill="none" stroke="#6c6c6c" stroke-width="1.2"/>
<circle cx="406.7" cy="370.9" r="1.7" fill="none" stroke="#6c6c6c" stroke-width="1.2"/>
<circle cx="410.7" cy="371.4" r="1.7" fill="none" stroke="#6c6c6c" stroke-width="1.2"/>
<circle cx="414.6" cy="372.4" r="1.7" fill="none" stroke="#6c6c6c" stroke-width="1.2"/>
<circle cx="418.8" cy="370.3" r="1.7" fill="none" stroke="#6c6c6c" stroke-width="1.2"/>
<circle cx="423.2" cy="368.4" r="1.7" fill="none" stroke="#6c6c6c" stroke-width="1.2"/>
<circle cx="426.4" cy="367.7" r="1.7" fill="none" stroke="#6c6c6c" stroke-width="1.2"/>
<circle cx="430.5" cy="359.9" r="1.7" fill="none" stroke="#6c6c6c" stroke-width="1.2"/>
<circle cx="438.5" cy="369.6" r="1.7" fill="none" stroke="#6c6c6c" stroke-width="1.2"/>
<circle cx="442.8" cy="376.6" r="1.7" fill="none" stroke="#6c6c6c" stroke-width="1.2"/>
<circle cx="447.1" cy="381.1" r="1.7" fill="none" stroke="#6c6c6c" stroke-width="1.2"/>
<circle cx="451.3" cy="372.2" r="1.7" fill="none" stroke="#6c6c6c" stroke-width="1.2"/>
<circle cx="454.9" cy="378.4" r="1.7" fill="none" stroke="#6c6c6c" stroke-width="1.2"/>
<circle cx="459.6" cy="380.1" r="1.7" fill="none" stroke="#6c6c6c" stroke-width="1.2"/>
<circle cx="463.2" cy="384.2" r="1.7" fill="none" stroke="#6c6c6c" stroke-width="1.2"/>
<circle cx="467.3" cy="382.6" r="1.7" fill="none" stroke="#6c6c6c" stroke-width="1.2"/>
<circle cx="471.7" cy="380.3" r="1.7" fill="none" stroke="#6c6c6c" stroke-width="1.2"/>
<circle cx="475.4" cy="376.4" r="1.7" fill="none" stroke="#6c6c6c" stroke-width="1.2"/>
<circle cx="479.3" cy="372.5" r="1.7" fill="none" stroke="#6c6c6c" stroke-width="1.2"/>
<circle cx="483.4" cy="403" r="1.7" fill="none" stroke="#6c6c6c" stroke-width="1.2"/>
<circle cx="487.6" cy="388.1" r="1.7" fill="none" stroke="#6c6c6c" stroke-width="1.2"/>
<circle cx="491.6" cy="384.1" r="1.7" fill="none" stroke="#6c6c6c" stroke-width="1.2"/>
<circle cx="495.8" cy="382.2" r="1.7" fill="none" stroke="#6c6c6c" stroke-width="1.2"/>
<circle cx="499.5" cy="385.9" r="1.7" fill="none" stroke="#6c6c6c" stroke-width="1.2"/>
<circle cx="503.8" cy="393.8" r="1.7" fill="none" stroke="#6c6c6c" stroke-width="1.2"/>
<circle cx="507.8" cy="390.3" r="1.7" fill="none" stroke="#6c6c6c" stroke-width="1.2"/>
<circle cx="511.8" cy="394.7" r="1.7" fill="none" stroke="#6c6c6c" stroke-width="1.2"/>
<circle cx="515.8" cy="396.4" r="1.7" fill="none" stroke="#6c6c6c" stroke-width="1.2"/>
<circle cx="519.8" cy="412.9" r="1.7" fill="none" stroke="#6c6c6c" stroke-width="1.2"/>
<circle cx="523.9" cy="398.7" r="1.7" fill="none" stroke="#6c6c6c" stroke-width="1.2"/>
<polyline points="333.6,342.5 337.6,357 342.7,357 346.3,356.2 349.9,354.8 353.5,358.4 357.8,357.7 362.2,359.8 366.2,360.6 370.8,358.4 374.3,356.2 378.7,349 383,349.7 387.3,352.6 391.6,352.6 394.5,365.6 398.9,369.2 402.5,359.8 406.1,370 410.4,371.4 414.7,371.4 419.8,370.7 424.8,369.2 427.7,369.2 430.1,361 434.4,363.2 439.4,370.4 443.8,377.6 448.1,379.8 453.9,378.3 459.6,379.1 464,381.2 468.3,378.3 474.1,376.2 477,376 480,375.2 484,383 488,383.5 492,381.5 502,380 528,380.5" fill="none" stroke="#2ee0ea" stroke-width="1.5" stroke-linejoin="round"/>
<polyline points="333.6,344 337.6,363.9 342.7,362 347,361.3 350.6,359.8 354.2,359.1 357.8,359.1 362.2,360.6 366.5,362 370.3,360.6 374.3,351.2 378.7,349.7 383,350.5 387.3,357 390.9,367.1 395.3,365.6 398.9,371.4 402.5,361.3 406.8,366.3 411.1,369.2 415.5,372.1 420.5,370 425.3,366.5 430.1,360.3 434.4,363.9 439.4,369 443.8,374.7 448.8,376.9 453.9,376.9 459.6,380.5 464.7,379.8 468.3,375.5 474.1,374.7 476.5,375 480,377 484,385.5 488,385 492,382 496,377.5 500,380 503.5,375 508,375 512,375 516,377 520,375.5 528,375.5" fill="none" stroke="#f2a51e" stroke-width="1.5" stroke-linejoin="round"/>
<polyline points="329.9,332.3 337.8,320.1 342.2,328.1 346.2,336.2 350.1,343.9 353.7,345.3 358,343.9 362,346.7 366,349.2 371,345.3 376.2,341.4 381.2,337.4 386.4,333.8 390.7,342.9 394.7,352.4 399.1,362.3 402.8,361.3 407,364.1 410.7,366.4 414.6,369.4 418.7,367.4 422.9,365.5 426.7,363.4 430.4,360.9 435.1,358.4 440.4,369.4 446.5,380.5 452,380.9 456.2,382.4 460.9,383.7 467.7,379.6 471.7,377.9 475.7,375.4 479.7,373.4 483.5,371.2 488.9,377.3 491.5,381.6 496.5,388.4 503,384.9 511.6,389.9 517.9,386.4 524.1,382.6" fill="none" stroke="#1414ee" stroke-width="1.35" stroke-linejoin="round"/>
<rect x="492.1" y="315.7" width="54.4" height="102.2" fill="#f5b670" fill-opacity="0.3"/>
</g>
<g>
<circle cx="49.8" cy="457.7" r="1.7" fill="none" stroke="#6c6c6c" stroke-width="1.2"/>
<circle cx="54" cy="443.3" r="1.7" fill="none" stroke="#6c6c6c" stroke-width="1.2"/>
<circle cx="57.7" cy="437.9" r="1.7" fill="none" stroke="#6c6c6c" stroke-width="1.2"/>
<circle cx="61.9" cy="467.8" r="1.7" fill="none" stroke="#6c6c6c" stroke-width="1.2"/>
<circle cx="66.2" cy="465.2" r="1.7" fill="none" stroke="#6c6c6c" stroke-width="1.2"/>
<circle cx="70" cy="465.5" r="1.7" fill="none" stroke="#6c6c6c" stroke-width="1.2"/>
<circle cx="74.3" cy="460.9" r="1.7" fill="none" stroke="#6c6c6c" stroke-width="1.2"/>
<circle cx="78.3" cy="460.7" r="1.7" fill="none" stroke="#6c6c6c" stroke-width="1.2"/>
<circle cx="82.1" cy="460.5" r="1.7" fill="none" stroke="#6c6c6c" stroke-width="1.2"/>
<circle cx="86" cy="464.3" r="1.7" fill="none" stroke="#6c6c6c" stroke-width="1.2"/>
<circle cx="90" cy="467.1" r="1.7" fill="none" stroke="#6c6c6c" stroke-width="1.2"/>
<circle cx="94.1" cy="462.7" r="1.7" fill="none" stroke="#6c6c6c" stroke-width="1.2"/>
<circle cx="98.4" cy="457.7" r="1.7" fill="none" stroke="#6c6c6c" stroke-width="1.2"/>
<circle cx="102.2" cy="448.3" r="1.7" fill="none" stroke="#6c6c6c" stroke-width="1.2"/>
<circle cx="106.4" cy="451.9" r="1.7" fill="none" stroke="#6c6c6c" stroke-width="1.2"/>
<circle cx="110.6" cy="458.7" r="1.7" fill="none" stroke="#6c6c6c" stroke-width="1.2"/>
<circle cx="114.3" cy="473.9" r="1.7" fill="none" stroke="#6c6c6c" stroke-width="1.2"/>
<circle cx="118.4" cy="473.9" r="1.7" fill="none" stroke="#6c6c6c" stroke-width="1.2"/>
<circle cx="122.5" cy="475.5" r="1.7" fill="none" stroke="#6c6c6c" stroke-width="1.2"/>
<circle cx="126.6" cy="459.3" r="1.7" fill="none" stroke="#6c6c6c" stroke-width="1.2"/>
<circle cx="130.5" cy="473.9" r="1.7" fill="none" stroke="#6c6c6c" stroke-width="1.2"/>
<circle cx="134.5" cy="474.4" r="1.7" fill="none" stroke="#6c6c6c" stroke-width="1.2"/>
<circle cx="138.4" cy="475.4" r="1.7" fill="none" stroke="#6c6c6c" stroke-width="1.2"/>
<circle cx="142.6" cy="473.3" r="1.7" fill="none" stroke="#6c6c6c" stroke-width="1.2"/>
<circle cx="147" cy="471.4" r="1.7" fill="none" stroke="#6c6c6c" stroke-width="1.2"/>
<circle cx="150.2" cy="470.7" r="1.7" fill="none" stroke="#6c6c6c" stroke-width="1.2"/>
<circle cx="154.3" cy="462.9" r="1.7" fill="none" stroke="#6c6c6c" stroke-width="1.2"/>
<circle cx="162.3" cy="472.6" r="1.7" fill="none" stroke="#6c6c6c" stroke-width="1.2"/>
<circle cx="166.6" cy="479.6" r="1.7" fill="none" stroke="#6c6c6c" stroke-width="1.2"/>
<circle cx="170.9" cy="484.1" r="1.7" fill="none" stroke="#6c6c6c" stroke-width="1.2"/>
<circle cx="175.1" cy="475.2" r="1.7" fill="none" stroke="#6c6c6c" stroke-width="1.2"/>
<circle cx="178.7" cy="481.4" r="1.7" fill="none" stroke="#6c6c6c" stroke-width="1.2"/>
<circle cx="183.4" cy="483.1" r="1.7" fill="none" stroke="#6c6c6c" stroke-width="1.2"/>
<circle cx="187" cy="487.2" r="1.7" fill="none" stroke="#6c6c6c" stroke-width="1.2"/>
<circle cx="191.1" cy="485.6" r="1.7" fill="none" stroke="#6c6c6c" stroke-width="1.2"/>
<circle cx="195.5" cy="483.3" r="1.7" fill="none" stroke="#6c6c6c" stroke-width="1.2"/>
<circle cx="199.2" cy="479.4" r="1.7" fill="none" stroke="#6c6c6c" stroke-width="1.2"/>
<circle cx="203.1" cy="475.5" r="1.7" fill="none" stroke="#6c6c6c" stroke-width="1.2"/>
<circle cx="207.2" cy="506" r="1.7" fill="none" stroke="#6c6c6c" stroke-width="1.2"/>
<circle cx="211.4" cy="491.1" r="1.7" fill="none" stroke="#6c6c6c" stroke-width="1.2"/>
<circle cx="215.4" cy="487.1" r="1.7" fill="none" stroke="#6c6c6c" stroke-width="1.2"/>
<circle cx="219.6" cy="485.2" r="1.7" fill="none" stroke="#6c6c6c" stroke-width="1.2"/>
<circle cx="223.3" cy="488.9" r="1.7" fill="none" stroke="#6c6c6c" stroke-width="1.2"/>
<circle cx="227.6" cy="496.8" r="1.7" fill="none" stroke="#6c6c6c" stroke-width="1.2"/>
<circle cx="231.6" cy="493.3" r="1.7" fill="none" stroke="#6c6c6c" stroke-width="1.2"/>
<circle cx="235.6" cy="497.7" r="1.7" fill="none" stroke="#6c6c6c" stroke-width="1.2"/>
<circle cx="239.6" cy="499.4" r="1.7" fill="none" stroke="#6c6c6c" stroke-width="1.2"/>
<circle cx="243.6" cy="515.9" r="1.7" fill="none" stroke="#6c6c6c" stroke-width="1.2"/>
<circle cx="247.7" cy="501.7" r="1.7" fill="none" stroke="#6c6c6c" stroke-width="1.2"/>
<polyline points="86.4,457.8 90.2,461.4 93.9,463 98.2,456.7 102.4,458.4 106.8,460 110,458.6 113.8,458.6 118.6,471.4 122.7,471.8 126.4,470.9 129.5,467.3 134.5,469.1 139.1,471.4 146.4,468.6 152.7,467.7 158.5,468.2 162.9,472.7 167.3,477.1 171.6,478.7 177.1,478.2 181.4,477.1 186.9,479.3 191.3,477.6 196.7,477.1 202.6,475.3 210.8,473.7 217.1,479 223.4,483.5 231.6,479.7 239.2,483.1 247.4,480.3" fill="none" stroke="#8c2896" stroke-width="1.5" stroke-linejoin="round"/>
<polyline points="132.7,473.2 138.6,475 143.6,471.4 149.1,468.2 155.5,465 158.5,463.8 161.2,467.8 165.1,476 170.5,480.9 176,478.7 181.4,482 185.8,485.3 192.3,485.3 196,485.4 200.1,484.3 207,483.8 212.7,487.9 219.6,491 225.3,490.2 229.7,491.7 232.9,493.6 235.4,498 239.8,501.1 244.9,499.9 248,499.2" fill="none" stroke="#141414" stroke-width="1.5" stroke-linejoin="round"/>
<polyline points="53.7,435.3 61.6,423.1 66,431.1 70,439.2 73.9,446.9 77.5,448.3 81.8,446.9 85.8,449.7 89.8,452.2 94.8,448.3 100,444.4 105,440.4 110.2,436.8 114.5,445.9 118.5,455.4 122.9,465.3 126.6,464.3 130.8,467.1 134.5,469.4 138.4,472.4 142.5,470.4 146.7,468.5 150.5,466.4 154.2,463.9 158.9,461.4 164.2,472.4 170.3,483.5 175.8,483.9 180,485.4 184.7,486.7 191.5,482.6 195.5,480.9 199.5,478.4 203.5,476.4 207.3,474.2 212.7,480.3 215.3,484.6 220.3,491.4 226.8,487.9 235.4,492.9 241.7,489.4 247.9,485.6" fill="none" stroke="#1414ee" stroke-width="1.35" stroke-linejoin="round"/>
<rect x="215.9" y="418.7" width="54.4" height="101.6" fill="#f5b670" fill-opacity="0.3"/>
</g>
<rect x="39.55" y="8.6" width="230.75" height="511.69999999999993" fill="none" stroke="#1a1a1a" stroke-width="1.3"/>
<line x1="39.55" y1="110.7" x2="270.3" y2="110.7" stroke="#1a1a1a" stroke-width="1.3"/>
<line x1="39.55" y1="212.9" x2="270.3" y2="212.9" stroke="#1a1a1a" stroke-width="1.3"/>
<line x1="39.55" y1="315.8" x2="270.3" y2="315.8" stroke="#1a1a1a" stroke-width="1.3"/>
<line x1="39.55" y1="418.7" x2="270.3" y2="418.7" stroke="#1a1a1a" stroke-width="1.3"/>
<line x1="49.5" y1="110.7" x2="49.5" y2="106.7" stroke="#1a1a1a" stroke-width="1.1"/>
<line x1="98.1" y1="110.7" x2="98.1" y2="106.7" stroke="#1a1a1a" stroke-width="1.1"/>
<line x1="146.6" y1="110.7" x2="146.6" y2="106.7" stroke="#1a1a1a" stroke-width="1.1"/>
<line x1="195.1" y1="110.7" x2="195.1" y2="106.7" stroke="#1a1a1a" stroke-width="1.1"/>
<line x1="243.7" y1="110.7" x2="243.7" y2="106.7" stroke="#1a1a1a" stroke-width="1.1"/>
<line x1="49.5" y1="212.9" x2="49.5" y2="208.9" stroke="#1a1a1a" stroke-width="1.1"/>
<line x1="98.1" y1="212.9" x2="98.1" y2="208.9" stroke="#1a1a1a" stroke-width="1.1"/>
<line x1="146.6" y1="212.9" x2="146.6" y2="208.9" stroke="#1a1a1a" stroke-width="1.1"/>
<line x1="195.1" y1="212.9" x2="195.1" y2="208.9" stroke="#1a1a1a" stroke-width="1.1"/>
<line x1="243.7" y1="212.9" x2="243.7" y2="208.9" stroke="#1a1a1a" stroke-width="1.1"/>
<line x1="49.5" y1="315.8" x2="49.5" y2="311.8" stroke="#1a1a1a" stroke-width="1.1"/>
<line x1="98.1" y1="315.8" x2="98.1" y2="311.8" stroke="#1a1a1a" stroke-width="1.1"/>
<line x1="146.6" y1="315.8" x2="146.6" y2="311.8" stroke="#1a1a1a" stroke-width="1.1"/>
<line x1="195.1" y1="315.8" x2="195.1" y2="311.8" stroke="#1a1a1a" stroke-width="1.1"/>
<line x1="243.7" y1="315.8" x2="243.7" y2="311.8" stroke="#1a1a1a" stroke-width="1.1"/>
<line x1="49.5" y1="418.7" x2="49.5" y2="414.7" stroke="#1a1a1a" stroke-width="1.1"/>
<line x1="98.1" y1="418.7" x2="98.1" y2="414.7" stroke="#1a1a1a" stroke-width="1.1"/>
<line x1="146.6" y1="418.7" x2="146.6" y2="414.7" stroke="#1a1a1a" stroke-width="1.1"/>
<line x1="195.1" y1="418.7" x2="195.1" y2="414.7" stroke="#1a1a1a" stroke-width="1.1"/>
<line x1="243.7" y1="418.7" x2="243.7" y2="414.7" stroke="#1a1a1a" stroke-width="1.1"/>
<line x1="49.5" y1="520.3" x2="49.5" y2="516.3" stroke="#1a1a1a" stroke-width="1.1"/>
<line x1="98.1" y1="520.3" x2="98.1" y2="516.3" stroke="#1a1a1a" stroke-width="1.1"/>
<line x1="146.6" y1="520.3" x2="146.6" y2="516.3" stroke="#1a1a1a" stroke-width="1.1"/>
<line x1="195.1" y1="520.3" x2="195.1" y2="516.3" stroke="#1a1a1a" stroke-width="1.1"/>
<line x1="243.7" y1="520.3" x2="243.7" y2="516.3" stroke="#1a1a1a" stroke-width="1.1"/>
<text x="50" y="534.5" font-family="'Liberation Serif','Times New Roman',serif" font-size="13" fill="#333" text-anchor="middle" textLength="25.5" lengthAdjust="spacingAndGlyphs">2015</text>
<text x="98.6" y="534.5" font-family="'Liberation Serif','Times New Roman',serif" font-size="13" fill="#333" text-anchor="middle" textLength="25.5" lengthAdjust="spacingAndGlyphs">2016</text>
<text x="147.1" y="534.5" font-family="'Liberation Serif','Times New Roman',serif" font-size="13" fill="#333" text-anchor="middle" textLength="25.5" lengthAdjust="spacingAndGlyphs">2017</text>
<text x="195.6" y="534.5" font-family="'Liberation Serif','Times New Roman',serif" font-size="13" fill="#333" text-anchor="middle" textLength="25.5" lengthAdjust="spacingAndGlyphs">2018</text>
<text x="244.2" y="534.5" font-family="'Liberation Serif','Times New Roman',serif" font-size="13" fill="#333" text-anchor="middle" textLength="25.5" lengthAdjust="spacingAndGlyphs">2019</text>
<text x="118.0" y="547.8" font-family="'Liberation Serif','Times New Roman',serif" font-size="13.5" font-weight="bold" fill="#1e1e1e" textLength="66.4" lengthAdjust="spacingAndGlyphs">Time (year)</text>
<rect x="315.75" y="8.6" width="230.79999999999995" height="409.29999999999995" fill="none" stroke="#1a1a1a" stroke-width="1.3"/>
<line x1="315.75" y1="110.5" x2="546.55" y2="110.5" stroke="#1a1a1a" stroke-width="1.3"/>
<line x1="315.75" y1="212.9" x2="546.55" y2="212.9" stroke="#1a1a1a" stroke-width="1.3"/>
<line x1="315.75" y1="315.7" x2="546.55" y2="315.7" stroke="#1a1a1a" stroke-width="1.3"/>
<line x1="325.8" y1="110.5" x2="325.8" y2="106.5" stroke="#1a1a1a" stroke-width="1.1"/>
<line x1="374.3" y1="110.5" x2="374.3" y2="106.5" stroke="#1a1a1a" stroke-width="1.1"/>
<line x1="422.8" y1="110.5" x2="422.8" y2="106.5" stroke="#1a1a1a" stroke-width="1.1"/>
<line x1="471.3" y1="110.5" x2="471.3" y2="106.5" stroke="#1a1a1a" stroke-width="1.1"/>
<line x1="519.9" y1="110.5" x2="519.9" y2="106.5" stroke="#1a1a1a" stroke-width="1.1"/>
<line x1="325.8" y1="212.9" x2="325.8" y2="208.9" stroke="#1a1a1a" stroke-width="1.1"/>
<line x1="374.3" y1="212.9" x2="374.3" y2="208.9" stroke="#1a1a1a" stroke-width="1.1"/>
<line x1="422.8" y1="212.9" x2="422.8" y2="208.9" stroke="#1a1a1a" stroke-width="1.1"/>
<line x1="471.3" y1="212.9" x2="471.3" y2="208.9" stroke="#1a1a1a" stroke-width="1.1"/>
<line x1="519.9" y1="212.9" x2="519.9" y2="208.9" stroke="#1a1a1a" stroke-width="1.1"/>
<line x1="325.8" y1="315.7" x2="325.8" y2="311.7" stroke="#1a1a1a" stroke-width="1.1"/>
<line x1="374.3" y1="315.7" x2="374.3" y2="311.7" stroke="#1a1a1a" stroke-width="1.1"/>
<line x1="422.8" y1="315.7" x2="422.8" y2="311.7" stroke="#1a1a1a" stroke-width="1.1"/>
<line x1="471.3" y1="315.7" x2="471.3" y2="311.7" stroke="#1a1a1a" stroke-width="1.1"/>
<line x1="519.9" y1="315.7" x2="519.9" y2="311.7" stroke="#1a1a1a" stroke-width="1.1"/>
<line x1="325.8" y1="417.9" x2="325.8" y2="413.9" stroke="#1a1a1a" stroke-width="1.1"/>
<line x1="374.3" y1="417.9" x2="374.3" y2="413.9" stroke="#1a1a1a" stroke-width="1.1"/>
<line x1="422.8" y1="417.9" x2="422.8" y2="413.9" stroke="#1a1a1a" stroke-width="1.1"/>
<line x1="471.3" y1="417.9" x2="471.3" y2="413.9" stroke="#1a1a1a" stroke-width="1.1"/>
<line x1="519.9" y1="417.9" x2="519.9" y2="413.9" stroke="#1a1a1a" stroke-width="1.1"/>
<text x="326.2" y="432.1" font-family="'Liberation Serif','Times New Roman',serif" font-size="13" fill="#333" text-anchor="middle" textLength="25.5" lengthAdjust="spacingAndGlyphs">2015</text>
<text x="374.8" y="432.1" font-family="'Liberation Serif','Times New Roman',serif" font-size="13" fill="#333" text-anchor="middle" textLength="25.5" lengthAdjust="spacingAndGlyphs">2016</text>
<text x="423.3" y="432.1" font-family="'Liberation Serif','Times New Roman',serif" font-size="13" fill="#333" text-anchor="middle" textLength="25.5" lengthAdjust="spacingAndGlyphs">2017</text>
<text x="471.8" y="432.1" font-family="'Liberation Serif','Times New Roman',serif" font-size="13" fill="#333" text-anchor="middle" textLength="25.5" lengthAdjust="spacingAndGlyphs">2018</text>
<text x="520.4" y="432.1" font-family="'Liberation Serif','Times New Roman',serif" font-size="13" fill="#333" text-anchor="middle" textLength="25.5" lengthAdjust="spacingAndGlyphs">2019</text>
<text x="393.7" y="444.9" font-family="'Liberation Serif','Times New Roman',serif" font-size="13.5" font-weight="bold" fill="#1e1e1e" textLength="66.4" lengthAdjust="spacingAndGlyphs">Time (year)</text>
<line x1="39.55" y1="9.1" x2="43.8" y2="9.1" stroke="#1a1a1a" stroke-width="1.1"/>
<text x="36.8" y="13.7" font-family="'Liberation Serif','Times New Roman',serif" font-size="13.4" fill="#3a3a3a" text-anchor="end">34</text>
<line x1="39.55" y1="50.3" x2="43.8" y2="50.3" stroke="#1a1a1a" stroke-width="1.1"/>
<text x="36.8" y="54.9" font-family="'Liberation Serif','Times New Roman',serif" font-size="13.4" fill="#3a3a3a" text-anchor="end">32</text>
<line x1="39.55" y1="91.5" x2="43.8" y2="91.5" stroke="#1a1a1a" stroke-width="1.1"/>
<text x="36.8" y="96.1" font-family="'Liberation Serif','Times New Roman',serif" font-size="13.4" fill="#3a3a3a" text-anchor="end">30</text>
<line x1="315.75" y1="9.1" x2="319.9" y2="9.1" stroke="#1a1a1a" stroke-width="1.1"/>
<text x="313.1" y="13.7" font-family="'Liberation Serif','Times New Roman',serif" font-size="13.4" fill="#3a3a3a" text-anchor="end">34</text>
<line x1="315.75" y1="50.3" x2="319.9" y2="50.3" stroke="#1a1a1a" stroke-width="1.1"/>
<text x="313.1" y="54.9" font-family="'Liberation Serif','Times New Roman',serif" font-size="13.4" fill="#3a3a3a" text-anchor="end">32</text>
<line x1="315.75" y1="91.5" x2="319.9" y2="91.5" stroke="#1a1a1a" stroke-width="1.1"/>
<text x="313.1" y="96.1" font-family="'Liberation Serif','Times New Roman',serif" font-size="13.4" fill="#3a3a3a" text-anchor="end">30</text>
<line x1="39.55" y1="111.2" x2="43.8" y2="111.2" stroke="#1a1a1a" stroke-width="1.1"/>
<text x="36.8" y="115.8" font-family="'Liberation Serif','Times New Roman',serif" font-size="13.4" fill="#3a3a3a" text-anchor="end">34</text>
<line x1="39.55" y1="152.4" x2="43.8" y2="152.4" stroke="#1a1a1a" stroke-width="1.1"/>
<text x="36.8" y="157" font-family="'Liberation Serif','Times New Roman',serif" font-size="13.4" fill="#3a3a3a" text-anchor="end">32</text>
<line x1="39.55" y1="193.6" x2="43.8" y2="193.6" stroke="#1a1a1a" stroke-width="1.1"/>
<text x="36.8" y="198.2" font-family="'Liberation Serif','Times New Roman',serif" font-size="13.4" fill="#3a3a3a" text-anchor="end">30</text>
<line x1="315.75" y1="115.1" x2="319.9" y2="115.1" stroke="#1a1a1a" stroke-width="1.1"/>
<text x="313.1" y="119.7" font-family="'Liberation Serif','Times New Roman',serif" font-size="13.4" fill="#3a3a3a" text-anchor="end">2</text>
<line x1="315.75" y1="151.9" x2="319.9" y2="151.9" stroke="#1a1a1a" stroke-width="1.1"/>
<text x="313.1" y="156.5" font-family="'Liberation Serif','Times New Roman',serif" font-size="13.4" fill="#3a3a3a" text-anchor="end">0</text>
<line x1="315.75" y1="188.7" x2="319.9" y2="188.7" stroke="#1a1a1a" stroke-width="1.1"/>
<text x="313.1" y="193.3" font-family="'Liberation Serif','Times New Roman',serif" font-size="13.4" fill="#3a3a3a" text-anchor="end"><tspan>−</tspan><tspan dx="1.6">2</tspan></text>
<line x1="39.55" y1="217.5" x2="43.8" y2="217.5" stroke="#1a1a1a" stroke-width="1.1"/>
<text x="36.8" y="222.1" font-family="'Liberation Serif','Times New Roman',serif" font-size="13.4" fill="#3a3a3a" text-anchor="end">2</text>
<line x1="39.55" y1="254.3" x2="43.8" y2="254.3" stroke="#1a1a1a" stroke-width="1.1"/>
<text x="36.8" y="258.9" font-family="'Liberation Serif','Times New Roman',serif" font-size="13.4" fill="#3a3a3a" text-anchor="end">0</text>
<line x1="39.55" y1="291.1" x2="43.8" y2="291.1" stroke="#1a1a1a" stroke-width="1.1"/>
<text x="36.8" y="295.7" font-family="'Liberation Serif','Times New Roman',serif" font-size="13.4" fill="#3a3a3a" text-anchor="end"><tspan>−</tspan><tspan dx="1.6">2</tspan></text>
<line x1="315.75" y1="217.5" x2="319.9" y2="217.5" stroke="#1a1a1a" stroke-width="1.1"/>
<text x="313.1" y="222.1" font-family="'Liberation Serif','Times New Roman',serif" font-size="13.4" fill="#3a3a3a" text-anchor="end">2</text>
<line x1="315.75" y1="254.3" x2="319.9" y2="254.3" stroke="#1a1a1a" stroke-width="1.1"/>
<text x="313.1" y="258.9" font-family="'Liberation Serif','Times New Roman',serif" font-size="13.4" fill="#3a3a3a" text-anchor="end">0</text>
<line x1="315.75" y1="291.1" x2="319.9" y2="291.1" stroke="#1a1a1a" stroke-width="1.1"/>
<text x="313.1" y="295.7" font-family="'Liberation Serif','Times New Roman',serif" font-size="13.4" fill="#3a3a3a" text-anchor="end"><tspan>−</tspan><tspan dx="1.6">2</tspan></text>
<line x1="39.55" y1="317.9" x2="43.8" y2="317.9" stroke="#1a1a1a" stroke-width="1.1"/>
<text x="36.8" y="322.5" font-family="'Liberation Serif','Times New Roman',serif" font-size="13.4" fill="#3a3a3a" text-anchor="end"><tspan>−</tspan><tspan dx="1.6">22</tspan></text>
<line x1="39.55" y1="349.8" x2="43.8" y2="349.8" stroke="#1a1a1a" stroke-width="1.1"/>
<text x="36.8" y="354.4" font-family="'Liberation Serif','Times New Roman',serif" font-size="13.4" fill="#3a3a3a" text-anchor="end"><tspan>−</tspan><tspan dx="1.6">24</tspan></text>
<line x1="39.55" y1="381.7" x2="43.8" y2="381.7" stroke="#1a1a1a" stroke-width="1.1"/>
<text x="36.8" y="386.3" font-family="'Liberation Serif','Times New Roman',serif" font-size="13.4" fill="#3a3a3a" text-anchor="end"><tspan>−</tspan><tspan dx="1.6">26</tspan></text>
<line x1="39.55" y1="413.6" x2="43.8" y2="413.6" stroke="#1a1a1a" stroke-width="1.1"/>
<text x="36.8" y="418.2" font-family="'Liberation Serif','Times New Roman',serif" font-size="13.4" fill="#3a3a3a" text-anchor="end"><tspan>−</tspan><tspan dx="1.6">28</tspan></text>
<line x1="315.75" y1="317.8" x2="319.9" y2="317.8" stroke="#1a1a1a" stroke-width="1.1"/>
<text x="313.1" y="322.4" font-family="'Liberation Serif','Times New Roman',serif" font-size="13.4" fill="#3a3a3a" text-anchor="end"><tspan>−</tspan><tspan dx="1.6">22</tspan></text>
<line x1="315.75" y1="349.7" x2="319.9" y2="349.7" stroke="#1a1a1a" stroke-width="1.1"/>
<text x="313.1" y="354.3" font-family="'Liberation Serif','Times New Roman',serif" font-size="13.4" fill="#3a3a3a" text-anchor="end"><tspan>−</tspan><tspan dx="1.6">24</tspan></text>
<line x1="315.75" y1="381.6" x2="319.9" y2="381.6" stroke="#1a1a1a" stroke-width="1.1"/>
<text x="313.1" y="386.2" font-family="'Liberation Serif','Times New Roman',serif" font-size="13.4" fill="#3a3a3a" text-anchor="end"><tspan>−</tspan><tspan dx="1.6">26</tspan></text>
<line x1="315.75" y1="413.5" x2="319.9" y2="413.5" stroke="#1a1a1a" stroke-width="1.1"/>
<text x="313.1" y="418.1" font-family="'Liberation Serif','Times New Roman',serif" font-size="13.4" fill="#3a3a3a" text-anchor="end"><tspan>−</tspan><tspan dx="1.6">28</tspan></text>
<line x1="39.55" y1="420.8" x2="43.8" y2="420.8" stroke="#1a1a1a" stroke-width="1.1"/>
<text x="36.8" y="425.4" font-family="'Liberation Serif','Times New Roman',serif" font-size="13.4" fill="#3a3a3a" text-anchor="end"><tspan>−</tspan><tspan dx="1.6">22</tspan></text>
<line x1="39.55" y1="452.7" x2="43.8" y2="452.7" stroke="#1a1a1a" stroke-width="1.1"/>
<text x="36.8" y="457.3" font-family="'Liberation Serif','Times New Roman',serif" font-size="13.4" fill="#3a3a3a" text-anchor="end"><tspan>−</tspan><tspan dx="1.6">24</tspan></text>
<line x1="39.55" y1="484.6" x2="43.8" y2="484.6" stroke="#1a1a1a" stroke-width="1.1"/>
<text x="36.8" y="489.2" font-family="'Liberation Serif','Times New Roman',serif" font-size="13.4" fill="#3a3a3a" text-anchor="end"><tspan>−</tspan><tspan dx="1.6">26</tspan></text>
<line x1="39.55" y1="516.5" x2="43.8" y2="516.5" stroke="#1a1a1a" stroke-width="1.1"/>
<text x="36.8" y="521.1" font-family="'Liberation Serif','Times New Roman',serif" font-size="13.4" fill="#3a3a3a" text-anchor="end"><tspan>−</tspan><tspan dx="1.6">28</tspan></text>
<text x="105.4" y="94.5" font-family="'Liberation Serif','Times New Roman',serif" font-size="10.4" font-weight="bold" fill="#dc2a3a" text-anchor="start" textLength="84" lengthAdjust="spacingAndGlyphs">Simulation period</text>
<text x="90.2" y="103.5" font-family="'Liberation Serif','Times New Roman',serif" font-size="7.3" font-weight="bold" fill="#dc2a3a" text-anchor="start" textLength="115" lengthAdjust="spacingAndGlyphs">(Training&#160;&#160;and validation period)</text>
<text x="218.9" y="94.5" font-family="'Liberation Serif','Times New Roman',serif" font-size="10.4" font-weight="bold" fill="#dc2a3a" text-anchor="start" textLength="48" lengthAdjust="spacingAndGlyphs">Prediction</text>
<text x="226" y="104.5" font-family="'Liberation Serif','Times New Roman',serif" font-size="10.4" font-weight="bold" fill="#dc2a3a" text-anchor="start" textLength="29.5" lengthAdjust="spacingAndGlyphs">period</text>
<text x="382" y="94.5" font-family="'Liberation Serif','Times New Roman',serif" font-size="10.4" font-weight="bold" fill="#dc2a3a" text-anchor="start" textLength="84" lengthAdjust="spacingAndGlyphs">Simulation period</text>
<text x="366.8" y="103.5" font-family="'Liberation Serif','Times New Roman',serif" font-size="7.3" font-weight="bold" fill="#dc2a3a" text-anchor="start" textLength="115" lengthAdjust="spacingAndGlyphs">(Training&#160;&#160;and validation period)</text>
<text x="495.5" y="94.5" font-family="'Liberation Serif','Times New Roman',serif" font-size="10.4" font-weight="bold" fill="#dc2a3a" text-anchor="start" textLength="48" lengthAdjust="spacingAndGlyphs">Prediction</text>
<text x="502.6" y="104.5" font-family="'Liberation Serif','Times New Roman',serif" font-size="10.4" font-weight="bold" fill="#dc2a3a" text-anchor="start" textLength="29.5" lengthAdjust="spacingAndGlyphs">period</text>
<text transform="translate(12.9,274.6) rotate(-90)" x="0" y="0" font-family="'Liberation Serif','Times New Roman',serif" font-size="13.8" font-weight="bold" fill="#1e1e1e" text-anchor="middle" textLength="138.8" lengthAdjust="spacingAndGlyphs">Groundwater levels (m)</text>
<text transform="translate(288.8,273.1) rotate(-90)" x="0" y="0" font-family="'Liberation Serif','Times New Roman',serif" font-size="13.8" font-weight="bold" fill="#1e1e1e" text-anchor="middle" textLength="136.7" lengthAdjust="spacingAndGlyphs">Groundwater levels (m)</text>
<circle cx="326.5" cy="460.1" r="1.5" fill="none" stroke="#5a5a5a" stroke-width="1.25"/>
<line x1="440.5" y1="460.3" x2="467.7" y2="460.3" stroke="#2323e0" stroke-width="1.6"/>
<text x="343.8" y="464.6" font-family="'Liberation Serif','Times New Roman',serif" font-size="13" fill="#3a3a3a" text-anchor="start" textLength="90" lengthAdjust="spacingAndGlyphs">Observed values</text>
<text x="473.2" y="464.6" font-family="'Liberation Serif','Times New Roman',serif" font-size="13" fill="#3a3a3a" text-anchor="start" textLength="67" lengthAdjust="spacingAndGlyphs">MODFLOW</text>
<line x1="312.6" y1="479.1" x2="340.0" y2="479.1" stroke="#e62832" stroke-width="1.6"/>
<line x1="440.5" y1="479.1" x2="467.7" y2="479.1" stroke="#2a962a" stroke-width="1.6"/>
<text x="343.8" y="483.4" font-family="'Liberation Serif','Times New Roman',serif" font-size="13" fill="#3a3a3a" text-anchor="start" textLength="20.3" lengthAdjust="spacingAndGlyphs">RF1</text>
<text x="473.2" y="483.4" font-family="'Liberation Serif','Times New Roman',serif" font-size="13" fill="#3a3a3a" text-anchor="start" textLength="20.3" lengthAdjust="spacingAndGlyphs">RF2</text>
<line x1="312.6" y1="496.9" x2="340.0" y2="496.9" stroke="#2ee6f0" stroke-width="1.6"/>
<line x1="440.5" y1="496.9" x2="467.7" y2="496.9" stroke="#f0b032" stroke-width="1.6"/>
<text x="343.8" y="501.2" font-family="'Liberation Serif','Times New Roman',serif" font-size="13" fill="#3a3a3a" text-anchor="start" textLength="56.5" lengthAdjust="spacingAndGlyphs">XGBoost1</text>
<text x="473.2" y="501.2" font-family="'Liberation Serif','Times New Roman',serif" font-size="13" fill="#3a3a3a" text-anchor="start" textLength="57.6" lengthAdjust="spacingAndGlyphs">XGBoost2</text>
<line x1="312.6" y1="515.7" x2="340.0" y2="515.7" stroke="#8c3296" stroke-width="1.6"/>
<line x1="440.5" y1="515.7" x2="467.7" y2="515.7" stroke="#323232" stroke-width="1.6"/>
<text x="343.8" y="520" font-family="'Liberation Serif','Times New Roman',serif" font-size="13" fill="#3a3a3a" text-anchor="start" textLength="40.5" lengthAdjust="spacingAndGlyphs">LSTM1</text>
<text x="473.2" y="520" font-family="'Liberation Serif','Times New Roman',serif" font-size="13" fill="#3a3a3a" text-anchor="start" textLength="41" lengthAdjust="spacingAndGlyphs">LSTM2</text>
</svg>
</body></html>
